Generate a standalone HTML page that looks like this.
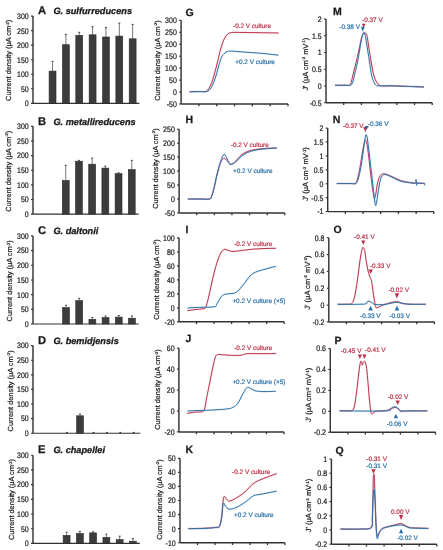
<!DOCTYPE html><html><head><meta charset="utf-8"><style>html,body{margin:0;padding:0;background:#fff;}svg{display:block;filter:blur(0.3px);}</style></head><body>
<svg width="443" height="550" viewBox="0 0 443 550" text-rendering="geometricPrecision" font-family='"Liberation Sans", sans-serif'>
<rect width="443" height="550" fill="#fff"/>
<line x1="33.00" y1="16.10" x2="33.00" y2="103.30" stroke="#333333" stroke-width="1.45"/>
<line x1="31.00" y1="16.10" x2="33.00" y2="16.10" stroke="#333333" stroke-width="1.15"/>
<text transform="translate(28.70,18.97) scale(1,1.14)" font-size="7.0" text-anchor="end" fill="#1a1a1a" stroke="#1a1a1a" stroke-width="0.2">300</text>
<line x1="31.00" y1="30.63" x2="33.00" y2="30.63" stroke="#333333" stroke-width="1.15"/>
<text transform="translate(28.70,33.51) scale(1,1.14)" font-size="7.0" text-anchor="end" fill="#1a1a1a" stroke="#1a1a1a" stroke-width="0.2">250</text>
<line x1="31.00" y1="45.17" x2="33.00" y2="45.17" stroke="#333333" stroke-width="1.15"/>
<text transform="translate(28.70,48.04) scale(1,1.14)" font-size="7.0" text-anchor="end" fill="#1a1a1a" stroke="#1a1a1a" stroke-width="0.2">200</text>
<line x1="31.00" y1="59.70" x2="33.00" y2="59.70" stroke="#333333" stroke-width="1.15"/>
<text transform="translate(28.70,62.57) scale(1,1.14)" font-size="7.0" text-anchor="end" fill="#1a1a1a" stroke="#1a1a1a" stroke-width="0.2">150</text>
<line x1="31.00" y1="74.23" x2="33.00" y2="74.23" stroke="#333333" stroke-width="1.15"/>
<text transform="translate(28.70,77.11) scale(1,1.14)" font-size="7.0" text-anchor="end" fill="#1a1a1a" stroke="#1a1a1a" stroke-width="0.2">100</text>
<line x1="31.00" y1="88.77" x2="33.00" y2="88.77" stroke="#333333" stroke-width="1.15"/>
<text transform="translate(28.70,91.64) scale(1,1.14)" font-size="7.0" text-anchor="end" fill="#1a1a1a" stroke="#1a1a1a" stroke-width="0.2">50</text>
<line x1="31.00" y1="103.30" x2="33.00" y2="103.30" stroke="#333333" stroke-width="1.15"/>
<text transform="translate(28.70,106.17) scale(1,1.14)" font-size="7.0" text-anchor="end" fill="#1a1a1a" stroke="#1a1a1a" stroke-width="0.2">0</text>
<line x1="33.00" y1="103.30" x2="139.40" y2="103.30" stroke="#333333" stroke-width="1.15"/>
<text x="37.90" y="14.30" font-size="11.2" text-anchor="start" fill="#1a1a1a" font-weight="bold" font-style="normal" stroke="#1a1a1a" stroke-width="0.25" >A</text>
<text x="53.40" y="14.30" font-size="9.2" text-anchor="start" fill="#1a1a1a" font-weight="bold" font-style="italic" stroke="#1a1a1a" stroke-width="0.3" >G. sulfurreducens</text>
<text transform="translate(11.30,60.40) rotate(-90)" font-size="7.36" text-anchor="middle" fill="#1a1a1a" stroke="#1a1a1a" stroke-width="0.2">Current density (μA cm<tspan font-size="55%" dy="-2.4">-2</tspan><tspan dy="2.4">)</tspan></text>
<line x1="52.55" y1="61.40" x2="52.55" y2="71.10" stroke="#666" stroke-width="0.9"/>
<line x1="51.55" y1="61.40" x2="53.55" y2="61.40" stroke="#444" stroke-width="1.0"/>
<rect x="49.10" y="71.10" width="6.9" height="32.20" fill="#3c3c3c" stroke="#2a2a2a" stroke-width="0.6"/>
<line x1="65.90" y1="34.40" x2="65.90" y2="44.70" stroke="#666" stroke-width="0.9"/>
<line x1="64.90" y1="34.40" x2="66.90" y2="34.40" stroke="#444" stroke-width="1.0"/>
<rect x="62.45" y="44.70" width="6.9" height="58.60" fill="#3c3c3c" stroke="#2a2a2a" stroke-width="0.6"/>
<line x1="79.25" y1="32.30" x2="79.25" y2="35.40" stroke="#666" stroke-width="0.9"/>
<line x1="78.25" y1="32.30" x2="80.25" y2="32.30" stroke="#444" stroke-width="1.0"/>
<rect x="75.80" y="35.40" width="6.9" height="67.90" fill="#3c3c3c" stroke="#2a2a2a" stroke-width="0.6"/>
<line x1="92.60" y1="26.70" x2="92.60" y2="34.80" stroke="#666" stroke-width="0.9"/>
<line x1="91.60" y1="26.70" x2="93.60" y2="26.70" stroke="#444" stroke-width="1.0"/>
<rect x="89.15" y="34.80" width="6.9" height="68.50" fill="#3c3c3c" stroke="#2a2a2a" stroke-width="0.6"/>
<line x1="105.95" y1="27.40" x2="105.95" y2="37.00" stroke="#666" stroke-width="0.9"/>
<line x1="104.95" y1="27.40" x2="106.95" y2="27.40" stroke="#444" stroke-width="1.0"/>
<rect x="102.50" y="37.00" width="6.9" height="66.30" fill="#3c3c3c" stroke="#2a2a2a" stroke-width="0.6"/>
<line x1="119.30" y1="23.10" x2="119.30" y2="36.10" stroke="#666" stroke-width="0.9"/>
<line x1="118.30" y1="23.10" x2="120.30" y2="23.10" stroke="#444" stroke-width="1.0"/>
<rect x="115.85" y="36.10" width="6.9" height="67.20" fill="#3c3c3c" stroke="#2a2a2a" stroke-width="0.6"/>
<line x1="132.65" y1="24.40" x2="132.65" y2="38.80" stroke="#666" stroke-width="0.9"/>
<line x1="131.65" y1="24.40" x2="133.65" y2="24.40" stroke="#444" stroke-width="1.0"/>
<rect x="129.20" y="38.80" width="6.9" height="64.50" fill="#3c3c3c" stroke="#2a2a2a" stroke-width="0.6"/>
<line x1="33.00" y1="126.30" x2="33.00" y2="214.10" stroke="#333333" stroke-width="1.45"/>
<line x1="31.00" y1="126.30" x2="33.00" y2="126.30" stroke="#333333" stroke-width="1.15"/>
<text transform="translate(28.70,129.17) scale(1,1.14)" font-size="7.0" text-anchor="end" fill="#1a1a1a" stroke="#1a1a1a" stroke-width="0.2">300</text>
<line x1="31.00" y1="140.93" x2="33.00" y2="140.93" stroke="#333333" stroke-width="1.15"/>
<text transform="translate(28.70,143.81) scale(1,1.14)" font-size="7.0" text-anchor="end" fill="#1a1a1a" stroke="#1a1a1a" stroke-width="0.2">250</text>
<line x1="31.00" y1="155.57" x2="33.00" y2="155.57" stroke="#333333" stroke-width="1.15"/>
<text transform="translate(28.70,158.44) scale(1,1.14)" font-size="7.0" text-anchor="end" fill="#1a1a1a" stroke="#1a1a1a" stroke-width="0.2">200</text>
<line x1="31.00" y1="170.20" x2="33.00" y2="170.20" stroke="#333333" stroke-width="1.15"/>
<text transform="translate(28.70,173.07) scale(1,1.14)" font-size="7.0" text-anchor="end" fill="#1a1a1a" stroke="#1a1a1a" stroke-width="0.2">150</text>
<line x1="31.00" y1="184.83" x2="33.00" y2="184.83" stroke="#333333" stroke-width="1.15"/>
<text transform="translate(28.70,187.71) scale(1,1.14)" font-size="7.0" text-anchor="end" fill="#1a1a1a" stroke="#1a1a1a" stroke-width="0.2">100</text>
<line x1="31.00" y1="199.47" x2="33.00" y2="199.47" stroke="#333333" stroke-width="1.15"/>
<text transform="translate(28.70,202.34) scale(1,1.14)" font-size="7.0" text-anchor="end" fill="#1a1a1a" stroke="#1a1a1a" stroke-width="0.2">50</text>
<line x1="31.00" y1="214.10" x2="33.00" y2="214.10" stroke="#333333" stroke-width="1.15"/>
<text transform="translate(28.70,216.97) scale(1,1.14)" font-size="7.0" text-anchor="end" fill="#1a1a1a" stroke="#1a1a1a" stroke-width="0.2">0</text>
<line x1="33.00" y1="214.10" x2="138.60" y2="214.10" stroke="#333333" stroke-width="1.15"/>
<text x="37.90" y="124.50" font-size="11.2" text-anchor="start" fill="#1a1a1a" font-weight="bold" font-style="normal" stroke="#1a1a1a" stroke-width="0.25" >B</text>
<text x="53.40" y="124.50" font-size="9.2" text-anchor="start" fill="#1a1a1a" font-weight="bold" font-style="italic" stroke="#1a1a1a" stroke-width="0.3" >G. metallireducens</text>
<text transform="translate(10.50,171.30) rotate(-90)" font-size="7.36" text-anchor="middle" fill="#1a1a1a" stroke="#1a1a1a" stroke-width="0.2">Current density (μA cm<tspan font-size="55%" dy="-2.4">-2</tspan><tspan dy="2.4">)</tspan></text>
<line x1="65.75" y1="165.40" x2="65.75" y2="180.50" stroke="#666" stroke-width="0.9"/>
<line x1="64.75" y1="165.40" x2="66.75" y2="165.40" stroke="#444" stroke-width="1.0"/>
<rect x="62.30" y="180.50" width="6.9" height="33.60" fill="#3c3c3c" stroke="#2a2a2a" stroke-width="0.6"/>
<line x1="78.95" y1="160.40" x2="78.95" y2="161.20" stroke="#666" stroke-width="0.9"/>
<line x1="77.95" y1="160.40" x2="79.95" y2="160.40" stroke="#444" stroke-width="1.0"/>
<rect x="75.50" y="161.20" width="6.9" height="52.90" fill="#3c3c3c" stroke="#2a2a2a" stroke-width="0.6"/>
<line x1="92.15" y1="158.20" x2="92.15" y2="164.20" stroke="#666" stroke-width="0.9"/>
<line x1="91.15" y1="158.20" x2="93.15" y2="158.20" stroke="#444" stroke-width="1.0"/>
<rect x="88.70" y="164.20" width="6.9" height="49.90" fill="#3c3c3c" stroke="#2a2a2a" stroke-width="0.6"/>
<line x1="105.35" y1="166.10" x2="105.35" y2="168.10" stroke="#666" stroke-width="0.9"/>
<line x1="104.35" y1="166.10" x2="106.35" y2="166.10" stroke="#444" stroke-width="1.0"/>
<rect x="101.90" y="168.10" width="6.9" height="46.00" fill="#3c3c3c" stroke="#2a2a2a" stroke-width="0.6"/>
<line x1="118.55" y1="172.80" x2="118.55" y2="173.60" stroke="#666" stroke-width="0.9"/>
<line x1="117.55" y1="172.80" x2="119.55" y2="172.80" stroke="#444" stroke-width="1.0"/>
<rect x="115.10" y="173.60" width="6.9" height="40.50" fill="#3c3c3c" stroke="#2a2a2a" stroke-width="0.6"/>
<line x1="131.75" y1="160.40" x2="131.75" y2="169.60" stroke="#666" stroke-width="0.9"/>
<line x1="130.75" y1="160.40" x2="132.75" y2="160.40" stroke="#444" stroke-width="1.0"/>
<rect x="128.30" y="169.60" width="6.9" height="44.50" fill="#3c3c3c" stroke="#2a2a2a" stroke-width="0.6"/>
<line x1="33.00" y1="235.90" x2="33.00" y2="324.00" stroke="#333333" stroke-width="1.45"/>
<line x1="31.00" y1="235.90" x2="33.00" y2="235.90" stroke="#333333" stroke-width="1.15"/>
<text transform="translate(28.70,238.77) scale(1,1.14)" font-size="7.0" text-anchor="end" fill="#1a1a1a" stroke="#1a1a1a" stroke-width="0.2">300</text>
<line x1="31.00" y1="250.58" x2="33.00" y2="250.58" stroke="#333333" stroke-width="1.15"/>
<text transform="translate(28.70,253.46) scale(1,1.14)" font-size="7.0" text-anchor="end" fill="#1a1a1a" stroke="#1a1a1a" stroke-width="0.2">250</text>
<line x1="31.00" y1="265.27" x2="33.00" y2="265.27" stroke="#333333" stroke-width="1.15"/>
<text transform="translate(28.70,268.14) scale(1,1.14)" font-size="7.0" text-anchor="end" fill="#1a1a1a" stroke="#1a1a1a" stroke-width="0.2">200</text>
<line x1="31.00" y1="279.95" x2="33.00" y2="279.95" stroke="#333333" stroke-width="1.15"/>
<text transform="translate(28.70,282.82) scale(1,1.14)" font-size="7.0" text-anchor="end" fill="#1a1a1a" stroke="#1a1a1a" stroke-width="0.2">150</text>
<line x1="31.00" y1="294.63" x2="33.00" y2="294.63" stroke="#333333" stroke-width="1.15"/>
<text transform="translate(28.70,297.51) scale(1,1.14)" font-size="7.0" text-anchor="end" fill="#1a1a1a" stroke="#1a1a1a" stroke-width="0.2">100</text>
<line x1="31.00" y1="309.32" x2="33.00" y2="309.32" stroke="#333333" stroke-width="1.15"/>
<text transform="translate(28.70,312.19) scale(1,1.14)" font-size="7.0" text-anchor="end" fill="#1a1a1a" stroke="#1a1a1a" stroke-width="0.2">50</text>
<line x1="31.00" y1="324.00" x2="33.00" y2="324.00" stroke="#333333" stroke-width="1.15"/>
<text transform="translate(28.70,326.87) scale(1,1.14)" font-size="7.0" text-anchor="end" fill="#1a1a1a" stroke="#1a1a1a" stroke-width="0.2">0</text>
<line x1="33.00" y1="324.00" x2="138.70" y2="324.00" stroke="#333333" stroke-width="1.15"/>
<text x="37.90" y="234.10" font-size="11.2" text-anchor="start" fill="#1a1a1a" font-weight="bold" font-style="normal" stroke="#1a1a1a" stroke-width="0.25" >C</text>
<text x="53.40" y="234.10" font-size="9.2" text-anchor="start" fill="#1a1a1a" font-weight="bold" font-style="italic" stroke="#1a1a1a" stroke-width="0.3" >G. daltonii</text>
<text transform="translate(12.20,280.90) rotate(-90)" font-size="7.36" text-anchor="middle" fill="#1a1a1a" stroke="#1a1a1a" stroke-width="0.2">Current density (μA cm<tspan font-size="55%" dy="-2.4">-2</tspan><tspan dy="2.4">)</tspan></text>
<line x1="66.03" y1="305.30" x2="66.03" y2="307.60" stroke="#666" stroke-width="0.9"/>
<line x1="65.03" y1="305.30" x2="67.03" y2="305.30" stroke="#444" stroke-width="1.0"/>
<rect x="62.58" y="307.60" width="6.9" height="16.40" fill="#3c3c3c" stroke="#2a2a2a" stroke-width="0.6"/>
<line x1="79.21" y1="298.40" x2="79.21" y2="300.60" stroke="#666" stroke-width="0.9"/>
<line x1="78.21" y1="298.40" x2="80.21" y2="298.40" stroke="#444" stroke-width="1.0"/>
<rect x="75.76" y="300.60" width="6.9" height="23.40" fill="#3c3c3c" stroke="#2a2a2a" stroke-width="0.6"/>
<line x1="92.39" y1="317.50" x2="92.39" y2="319.30" stroke="#666" stroke-width="0.9"/>
<line x1="91.39" y1="317.50" x2="93.39" y2="317.50" stroke="#444" stroke-width="1.0"/>
<rect x="88.94" y="319.30" width="6.9" height="4.70" fill="#3c3c3c" stroke="#2a2a2a" stroke-width="0.6"/>
<line x1="105.57" y1="316.00" x2="105.57" y2="317.50" stroke="#666" stroke-width="0.9"/>
<line x1="104.57" y1="316.00" x2="106.57" y2="316.00" stroke="#444" stroke-width="1.0"/>
<rect x="102.12" y="317.50" width="6.9" height="6.50" fill="#3c3c3c" stroke="#2a2a2a" stroke-width="0.6"/>
<line x1="118.75" y1="315.50" x2="118.75" y2="317.10" stroke="#666" stroke-width="0.9"/>
<line x1="117.75" y1="315.50" x2="119.75" y2="315.50" stroke="#444" stroke-width="1.0"/>
<rect x="115.30" y="317.10" width="6.9" height="6.90" fill="#3c3c3c" stroke="#2a2a2a" stroke-width="0.6"/>
<line x1="131.93" y1="316.00" x2="131.93" y2="318.20" stroke="#666" stroke-width="0.9"/>
<line x1="130.93" y1="316.00" x2="132.93" y2="316.00" stroke="#444" stroke-width="1.0"/>
<rect x="128.48" y="318.20" width="6.9" height="5.80" fill="#3c3c3c" stroke="#2a2a2a" stroke-width="0.6"/>
<line x1="33.00" y1="345.60" x2="33.00" y2="433.20" stroke="#333333" stroke-width="1.45"/>
<line x1="31.00" y1="345.60" x2="33.00" y2="345.60" stroke="#333333" stroke-width="1.15"/>
<text transform="translate(28.70,348.47) scale(1,1.14)" font-size="7.0" text-anchor="end" fill="#1a1a1a" stroke="#1a1a1a" stroke-width="0.2">300</text>
<line x1="31.00" y1="360.20" x2="33.00" y2="360.20" stroke="#333333" stroke-width="1.15"/>
<text transform="translate(28.70,363.07) scale(1,1.14)" font-size="7.0" text-anchor="end" fill="#1a1a1a" stroke="#1a1a1a" stroke-width="0.2">250</text>
<line x1="31.00" y1="374.80" x2="33.00" y2="374.80" stroke="#333333" stroke-width="1.15"/>
<text transform="translate(28.70,377.67) scale(1,1.14)" font-size="7.0" text-anchor="end" fill="#1a1a1a" stroke="#1a1a1a" stroke-width="0.2">200</text>
<line x1="31.00" y1="389.40" x2="33.00" y2="389.40" stroke="#333333" stroke-width="1.15"/>
<text transform="translate(28.70,392.27) scale(1,1.14)" font-size="7.0" text-anchor="end" fill="#1a1a1a" stroke="#1a1a1a" stroke-width="0.2">150</text>
<line x1="31.00" y1="404.00" x2="33.00" y2="404.00" stroke="#333333" stroke-width="1.15"/>
<text transform="translate(28.70,406.87) scale(1,1.14)" font-size="7.0" text-anchor="end" fill="#1a1a1a" stroke="#1a1a1a" stroke-width="0.2">100</text>
<line x1="31.00" y1="418.60" x2="33.00" y2="418.60" stroke="#333333" stroke-width="1.15"/>
<text transform="translate(28.70,421.47) scale(1,1.14)" font-size="7.0" text-anchor="end" fill="#1a1a1a" stroke="#1a1a1a" stroke-width="0.2">50</text>
<line x1="31.00" y1="433.20" x2="33.00" y2="433.20" stroke="#333333" stroke-width="1.15"/>
<text transform="translate(28.70,436.07) scale(1,1.14)" font-size="7.0" text-anchor="end" fill="#1a1a1a" stroke="#1a1a1a" stroke-width="0.2">0</text>
<line x1="33.00" y1="433.20" x2="140.40" y2="433.20" stroke="#333333" stroke-width="1.15"/>
<text x="37.90" y="343.80" font-size="11.2" text-anchor="start" fill="#1a1a1a" font-weight="bold" font-style="normal" stroke="#1a1a1a" stroke-width="0.25" >D</text>
<text x="53.40" y="343.80" font-size="9.2" text-anchor="start" fill="#1a1a1a" font-weight="bold" font-style="italic" stroke="#1a1a1a" stroke-width="0.3" >G. bemidjensis</text>
<text transform="translate(12.60,390.90) rotate(-90)" font-size="7.36" text-anchor="middle" fill="#1a1a1a" stroke="#1a1a1a" stroke-width="0.2">Current density (μA cm<tspan font-size="55%" dy="-2.4">-2</tspan><tspan dy="2.4">)</tspan></text>
<line x1="80.07" y1="414.00" x2="80.07" y2="415.80" stroke="#666" stroke-width="0.9"/>
<line x1="79.07" y1="414.00" x2="81.07" y2="414.00" stroke="#444" stroke-width="1.0"/>
<rect x="76.62" y="415.80" width="6.9" height="17.40" fill="#3c3c3c" stroke="#2a2a2a" stroke-width="0.6"/>
<rect x="65.96" y="431.90" width="1.8" height="1.3" fill="#333"/>
<rect x="92.68" y="431.90" width="1.8" height="1.3" fill="#333"/>
<rect x="106.04" y="431.90" width="1.8" height="1.3" fill="#333"/>
<rect x="119.40" y="431.90" width="1.8" height="1.3" fill="#333"/>
<rect x="132.76" y="431.90" width="1.8" height="1.3" fill="#333"/>
<line x1="33.00" y1="455.20" x2="33.00" y2="543.40" stroke="#333333" stroke-width="1.45"/>
<line x1="31.00" y1="455.20" x2="33.00" y2="455.20" stroke="#333333" stroke-width="1.15"/>
<text transform="translate(28.70,458.07) scale(1,1.14)" font-size="7.0" text-anchor="end" fill="#1a1a1a" stroke="#1a1a1a" stroke-width="0.2">300</text>
<line x1="31.00" y1="469.90" x2="33.00" y2="469.90" stroke="#333333" stroke-width="1.15"/>
<text transform="translate(28.70,472.77) scale(1,1.14)" font-size="7.0" text-anchor="end" fill="#1a1a1a" stroke="#1a1a1a" stroke-width="0.2">250</text>
<line x1="31.00" y1="484.60" x2="33.00" y2="484.60" stroke="#333333" stroke-width="1.15"/>
<text transform="translate(28.70,487.47) scale(1,1.14)" font-size="7.0" text-anchor="end" fill="#1a1a1a" stroke="#1a1a1a" stroke-width="0.2">200</text>
<line x1="31.00" y1="499.30" x2="33.00" y2="499.30" stroke="#333333" stroke-width="1.15"/>
<text transform="translate(28.70,502.17) scale(1,1.14)" font-size="7.0" text-anchor="end" fill="#1a1a1a" stroke="#1a1a1a" stroke-width="0.2">150</text>
<line x1="31.00" y1="514.00" x2="33.00" y2="514.00" stroke="#333333" stroke-width="1.15"/>
<text transform="translate(28.70,516.87) scale(1,1.14)" font-size="7.0" text-anchor="end" fill="#1a1a1a" stroke="#1a1a1a" stroke-width="0.2">100</text>
<line x1="31.00" y1="528.70" x2="33.00" y2="528.70" stroke="#333333" stroke-width="1.15"/>
<text transform="translate(28.70,531.57) scale(1,1.14)" font-size="7.0" text-anchor="end" fill="#1a1a1a" stroke="#1a1a1a" stroke-width="0.2">50</text>
<line x1="31.00" y1="543.40" x2="33.00" y2="543.40" stroke="#333333" stroke-width="1.15"/>
<text transform="translate(28.70,546.27) scale(1,1.14)" font-size="7.0" text-anchor="end" fill="#1a1a1a" stroke="#1a1a1a" stroke-width="0.2">0</text>
<line x1="33.00" y1="543.40" x2="139.80" y2="543.40" stroke="#333333" stroke-width="1.15"/>
<text x="37.90" y="453.40" font-size="11.2" text-anchor="start" fill="#1a1a1a" font-weight="bold" font-style="normal" stroke="#1a1a1a" stroke-width="0.25" >E</text>
<text x="53.40" y="453.40" font-size="9.2" text-anchor="start" fill="#1a1a1a" font-weight="bold" font-style="italic" stroke="#1a1a1a" stroke-width="0.3" >G. chapellei</text>
<text transform="translate(13.90,499.60) rotate(-90)" font-size="7.36" text-anchor="middle" fill="#1a1a1a" stroke="#1a1a1a" stroke-width="0.2">Current density (μA cm<tspan font-size="55%" dy="-2.4">-2</tspan><tspan dy="2.4">)</tspan></text>
<line x1="66.61" y1="532.30" x2="66.61" y2="535.40" stroke="#666" stroke-width="0.9"/>
<line x1="65.61" y1="532.30" x2="67.61" y2="532.30" stroke="#444" stroke-width="1.0"/>
<rect x="63.16" y="535.40" width="6.9" height="8.00" fill="#3c3c3c" stroke="#2a2a2a" stroke-width="0.6"/>
<line x1="79.87" y1="531.50" x2="79.87" y2="533.40" stroke="#666" stroke-width="0.9"/>
<line x1="78.87" y1="531.50" x2="80.87" y2="531.50" stroke="#444" stroke-width="1.0"/>
<rect x="76.42" y="533.40" width="6.9" height="10.00" fill="#3c3c3c" stroke="#2a2a2a" stroke-width="0.6"/>
<line x1="93.13" y1="531.80" x2="93.13" y2="532.90" stroke="#666" stroke-width="0.9"/>
<line x1="92.13" y1="531.80" x2="94.13" y2="531.80" stroke="#444" stroke-width="1.0"/>
<rect x="89.68" y="532.90" width="6.9" height="10.50" fill="#3c3c3c" stroke="#2a2a2a" stroke-width="0.6"/>
<line x1="106.39" y1="534.20" x2="106.39" y2="537.40" stroke="#666" stroke-width="0.9"/>
<line x1="105.39" y1="534.20" x2="107.39" y2="534.20" stroke="#444" stroke-width="1.0"/>
<rect x="102.94" y="537.40" width="6.9" height="6.00" fill="#3c3c3c" stroke="#2a2a2a" stroke-width="0.6"/>
<line x1="119.65" y1="536.20" x2="119.65" y2="539.60" stroke="#666" stroke-width="0.9"/>
<line x1="118.65" y1="536.20" x2="120.65" y2="536.20" stroke="#444" stroke-width="1.0"/>
<rect x="116.20" y="539.60" width="6.9" height="3.80" fill="#3c3c3c" stroke="#2a2a2a" stroke-width="0.6"/>
<line x1="132.91" y1="538.60" x2="132.91" y2="541.20" stroke="#666" stroke-width="0.9"/>
<line x1="131.91" y1="538.60" x2="133.91" y2="538.60" stroke="#444" stroke-width="1.0"/>
<rect x="129.46" y="541.20" width="6.9" height="2.20" fill="#3c3c3c" stroke="#2a2a2a" stroke-width="0.6"/>
<line x1="181.10" y1="20.30" x2="181.10" y2="104.00" stroke="#333333" stroke-width="1.45"/>
<line x1="179.10" y1="20.30" x2="181.10" y2="20.30" stroke="#333333" stroke-width="1.15"/>
<text transform="translate(176.80,23.17) scale(1,1.14)" font-size="7.0" text-anchor="end" fill="#1a1a1a" stroke="#1a1a1a" stroke-width="0.2">300</text>
<line x1="179.10" y1="32.26" x2="181.10" y2="32.26" stroke="#333333" stroke-width="1.15"/>
<text transform="translate(176.80,35.13) scale(1,1.14)" font-size="7.0" text-anchor="end" fill="#1a1a1a" stroke="#1a1a1a" stroke-width="0.2">250</text>
<line x1="179.10" y1="44.21" x2="181.10" y2="44.21" stroke="#333333" stroke-width="1.15"/>
<text transform="translate(176.80,47.09) scale(1,1.14)" font-size="7.0" text-anchor="end" fill="#1a1a1a" stroke="#1a1a1a" stroke-width="0.2">200</text>
<line x1="179.10" y1="56.17" x2="181.10" y2="56.17" stroke="#333333" stroke-width="1.15"/>
<text transform="translate(176.80,59.04) scale(1,1.14)" font-size="7.0" text-anchor="end" fill="#1a1a1a" stroke="#1a1a1a" stroke-width="0.2">150</text>
<line x1="179.10" y1="68.13" x2="181.10" y2="68.13" stroke="#333333" stroke-width="1.15"/>
<text transform="translate(176.80,71.00) scale(1,1.14)" font-size="7.0" text-anchor="end" fill="#1a1a1a" stroke="#1a1a1a" stroke-width="0.2">100</text>
<line x1="179.10" y1="80.09" x2="181.10" y2="80.09" stroke="#333333" stroke-width="1.15"/>
<text transform="translate(176.80,82.96) scale(1,1.14)" font-size="7.0" text-anchor="end" fill="#1a1a1a" stroke="#1a1a1a" stroke-width="0.2">50</text>
<line x1="179.10" y1="92.04" x2="181.10" y2="92.04" stroke="#333333" stroke-width="1.15"/>
<text transform="translate(176.80,94.92) scale(1,1.14)" font-size="7.0" text-anchor="end" fill="#1a1a1a" stroke="#1a1a1a" stroke-width="0.2">0</text>
<line x1="179.10" y1="104.00" x2="181.10" y2="104.00" stroke="#333333" stroke-width="1.15"/>
<text transform="translate(176.80,106.87) scale(1,1.14)" font-size="7.0" text-anchor="end" fill="#1a1a1a" stroke="#1a1a1a" stroke-width="0.2">-50</text>
<line x1="181.10" y1="104.00" x2="288.00" y2="104.00" stroke="#333333" stroke-width="1.45"/>
<line x1="198.92" y1="104.00" x2="198.92" y2="106.30" stroke="#333333" stroke-width="1.3"/>
<line x1="216.73" y1="104.00" x2="216.73" y2="106.30" stroke="#333333" stroke-width="1.3"/>
<line x1="234.55" y1="104.00" x2="234.55" y2="106.30" stroke="#333333" stroke-width="1.3"/>
<line x1="252.37" y1="104.00" x2="252.37" y2="106.30" stroke="#333333" stroke-width="1.3"/>
<line x1="270.18" y1="104.00" x2="270.18" y2="106.30" stroke="#333333" stroke-width="1.3"/>
<line x1="288.00" y1="104.00" x2="288.00" y2="106.30" stroke="#333333" stroke-width="1.3"/>
<text x="185.40" y="15.50" font-size="10.5" text-anchor="start" fill="#1a1a1a" font-weight="bold" font-style="normal" stroke="#1a1a1a" stroke-width="0.25" >G</text>
<text transform="translate(159.60,60.50) rotate(-90)" font-size="7.3" text-anchor="middle" fill="#1a1a1a" stroke="#1a1a1a" stroke-width="0.2">Current density (μA cm<tspan font-size="55%" dy="-2.4">-2</tspan><tspan dy="2.4">)</tspan></text>
<line x1="179.10" y1="129.20" x2="179.10" y2="212.90" stroke="#333333" stroke-width="1.45"/>
<line x1="177.10" y1="129.20" x2="179.10" y2="129.20" stroke="#333333" stroke-width="1.15"/>
<text transform="translate(174.80,132.07) scale(1,1.14)" font-size="7.0" text-anchor="end" fill="#1a1a1a" stroke="#1a1a1a" stroke-width="0.2">250</text>
<line x1="177.10" y1="143.15" x2="179.10" y2="143.15" stroke="#333333" stroke-width="1.15"/>
<text transform="translate(174.80,146.02) scale(1,1.14)" font-size="7.0" text-anchor="end" fill="#1a1a1a" stroke="#1a1a1a" stroke-width="0.2">200</text>
<line x1="177.10" y1="157.10" x2="179.10" y2="157.10" stroke="#333333" stroke-width="1.15"/>
<text transform="translate(174.80,159.97) scale(1,1.14)" font-size="7.0" text-anchor="end" fill="#1a1a1a" stroke="#1a1a1a" stroke-width="0.2">150</text>
<line x1="177.10" y1="171.05" x2="179.10" y2="171.05" stroke="#333333" stroke-width="1.15"/>
<text transform="translate(174.80,173.92) scale(1,1.14)" font-size="7.0" text-anchor="end" fill="#1a1a1a" stroke="#1a1a1a" stroke-width="0.2">100</text>
<line x1="177.10" y1="185.00" x2="179.10" y2="185.00" stroke="#333333" stroke-width="1.15"/>
<text transform="translate(174.80,187.87) scale(1,1.14)" font-size="7.0" text-anchor="end" fill="#1a1a1a" stroke="#1a1a1a" stroke-width="0.2">50</text>
<line x1="177.10" y1="198.95" x2="179.10" y2="198.95" stroke="#333333" stroke-width="1.15"/>
<text transform="translate(174.80,201.82) scale(1,1.14)" font-size="7.0" text-anchor="end" fill="#1a1a1a" stroke="#1a1a1a" stroke-width="0.2">0</text>
<line x1="177.10" y1="212.90" x2="179.10" y2="212.90" stroke="#333333" stroke-width="1.15"/>
<text transform="translate(174.80,215.77) scale(1,1.14)" font-size="7.0" text-anchor="end" fill="#1a1a1a" stroke="#1a1a1a" stroke-width="0.2">-50</text>
<line x1="179.10" y1="212.90" x2="284.80" y2="212.90" stroke="#333333" stroke-width="1.45"/>
<line x1="196.72" y1="212.90" x2="196.72" y2="215.20" stroke="#333333" stroke-width="1.3"/>
<line x1="214.33" y1="212.90" x2="214.33" y2="215.20" stroke="#333333" stroke-width="1.3"/>
<line x1="231.95" y1="212.90" x2="231.95" y2="215.20" stroke="#333333" stroke-width="1.3"/>
<line x1="249.57" y1="212.90" x2="249.57" y2="215.20" stroke="#333333" stroke-width="1.3"/>
<line x1="267.18" y1="212.90" x2="267.18" y2="215.20" stroke="#333333" stroke-width="1.3"/>
<line x1="284.80" y1="212.90" x2="284.80" y2="215.20" stroke="#333333" stroke-width="1.3"/>
<text x="185.40" y="123.40" font-size="10.5" text-anchor="start" fill="#1a1a1a" font-weight="bold" font-style="normal" stroke="#1a1a1a" stroke-width="0.25" >H</text>
<text transform="translate(157.50,168.60) rotate(-90)" font-size="7.3" text-anchor="middle" fill="#1a1a1a" stroke="#1a1a1a" stroke-width="0.2">Current density (μA cm<tspan font-size="55%" dy="-2.4">-2</tspan><tspan dy="2.4">)</tspan></text>
<line x1="179.00" y1="237.80" x2="179.00" y2="321.80" stroke="#333333" stroke-width="1.45"/>
<line x1="177.00" y1="237.80" x2="179.00" y2="237.80" stroke="#333333" stroke-width="1.15"/>
<text transform="translate(174.70,240.67) scale(1,1.14)" font-size="7.0" text-anchor="end" fill="#1a1a1a" stroke="#1a1a1a" stroke-width="0.2">100</text>
<line x1="177.00" y1="251.80" x2="179.00" y2="251.80" stroke="#333333" stroke-width="1.15"/>
<text transform="translate(174.70,254.67) scale(1,1.14)" font-size="7.0" text-anchor="end" fill="#1a1a1a" stroke="#1a1a1a" stroke-width="0.2">80</text>
<line x1="177.00" y1="265.80" x2="179.00" y2="265.80" stroke="#333333" stroke-width="1.15"/>
<text transform="translate(174.70,268.67) scale(1,1.14)" font-size="7.0" text-anchor="end" fill="#1a1a1a" stroke="#1a1a1a" stroke-width="0.2">60</text>
<line x1="177.00" y1="279.80" x2="179.00" y2="279.80" stroke="#333333" stroke-width="1.15"/>
<text transform="translate(174.70,282.67) scale(1,1.14)" font-size="7.0" text-anchor="end" fill="#1a1a1a" stroke="#1a1a1a" stroke-width="0.2">40</text>
<line x1="177.00" y1="293.80" x2="179.00" y2="293.80" stroke="#333333" stroke-width="1.15"/>
<text transform="translate(174.70,296.67) scale(1,1.14)" font-size="7.0" text-anchor="end" fill="#1a1a1a" stroke="#1a1a1a" stroke-width="0.2">20</text>
<line x1="177.00" y1="307.80" x2="179.00" y2="307.80" stroke="#333333" stroke-width="1.15"/>
<text transform="translate(174.70,310.67) scale(1,1.14)" font-size="7.0" text-anchor="end" fill="#1a1a1a" stroke="#1a1a1a" stroke-width="0.2">0</text>
<line x1="177.00" y1="321.80" x2="179.00" y2="321.80" stroke="#333333" stroke-width="1.15"/>
<text transform="translate(174.70,324.67) scale(1,1.14)" font-size="7.0" text-anchor="end" fill="#1a1a1a" stroke="#1a1a1a" stroke-width="0.2">-20</text>
<line x1="179.00" y1="321.80" x2="284.20" y2="321.80" stroke="#333333" stroke-width="1.45"/>
<line x1="196.53" y1="321.80" x2="196.53" y2="324.10" stroke="#333333" stroke-width="1.3"/>
<line x1="214.07" y1="321.80" x2="214.07" y2="324.10" stroke="#333333" stroke-width="1.3"/>
<line x1="231.60" y1="321.80" x2="231.60" y2="324.10" stroke="#333333" stroke-width="1.3"/>
<line x1="249.13" y1="321.80" x2="249.13" y2="324.10" stroke="#333333" stroke-width="1.3"/>
<line x1="266.67" y1="321.80" x2="266.67" y2="324.10" stroke="#333333" stroke-width="1.3"/>
<line x1="284.20" y1="321.80" x2="284.20" y2="324.10" stroke="#333333" stroke-width="1.3"/>
<text x="185.40" y="232.50" font-size="10.5" text-anchor="start" fill="#1a1a1a" font-weight="bold" font-style="normal" stroke="#1a1a1a" stroke-width="0.25" >I</text>
<text transform="translate(158.70,279.50) rotate(-90)" font-size="7.3" text-anchor="middle" fill="#1a1a1a" stroke="#1a1a1a" stroke-width="0.2">Current density (μA cm<tspan font-size="55%" dy="-2.4">-2</tspan><tspan dy="2.4">)</tspan></text>
<line x1="178.90" y1="348.10" x2="178.90" y2="431.90" stroke="#333333" stroke-width="1.45"/>
<line x1="176.90" y1="348.10" x2="178.90" y2="348.10" stroke="#333333" stroke-width="1.15"/>
<text transform="translate(174.60,350.97) scale(1,1.14)" font-size="7.0" text-anchor="end" fill="#1a1a1a" stroke="#1a1a1a" stroke-width="0.2">60</text>
<line x1="176.90" y1="369.05" x2="178.90" y2="369.05" stroke="#333333" stroke-width="1.15"/>
<text transform="translate(174.60,371.92) scale(1,1.14)" font-size="7.0" text-anchor="end" fill="#1a1a1a" stroke="#1a1a1a" stroke-width="0.2">40</text>
<line x1="176.90" y1="390.00" x2="178.90" y2="390.00" stroke="#333333" stroke-width="1.15"/>
<text transform="translate(174.60,392.87) scale(1,1.14)" font-size="7.0" text-anchor="end" fill="#1a1a1a" stroke="#1a1a1a" stroke-width="0.2">20</text>
<line x1="176.90" y1="410.95" x2="178.90" y2="410.95" stroke="#333333" stroke-width="1.15"/>
<text transform="translate(174.60,413.82) scale(1,1.14)" font-size="7.0" text-anchor="end" fill="#1a1a1a" stroke="#1a1a1a" stroke-width="0.2">0</text>
<line x1="176.90" y1="431.90" x2="178.90" y2="431.90" stroke="#333333" stroke-width="1.15"/>
<text transform="translate(174.60,434.77) scale(1,1.14)" font-size="7.0" text-anchor="end" fill="#1a1a1a" stroke="#1a1a1a" stroke-width="0.2">-20</text>
<line x1="178.90" y1="431.90" x2="284.00" y2="431.90" stroke="#333333" stroke-width="1.45"/>
<line x1="196.42" y1="431.90" x2="196.42" y2="434.20" stroke="#333333" stroke-width="1.3"/>
<line x1="213.93" y1="431.90" x2="213.93" y2="434.20" stroke="#333333" stroke-width="1.3"/>
<line x1="231.45" y1="431.90" x2="231.45" y2="434.20" stroke="#333333" stroke-width="1.3"/>
<line x1="248.97" y1="431.90" x2="248.97" y2="434.20" stroke="#333333" stroke-width="1.3"/>
<line x1="266.48" y1="431.90" x2="266.48" y2="434.20" stroke="#333333" stroke-width="1.3"/>
<line x1="284.00" y1="431.90" x2="284.00" y2="434.20" stroke="#333333" stroke-width="1.3"/>
<text x="185.40" y="342.40" font-size="10.5" text-anchor="start" fill="#1a1a1a" font-weight="bold" font-style="normal" stroke="#1a1a1a" stroke-width="0.25" >J</text>
<text transform="translate(160.40,389.50) rotate(-90)" font-size="7.3" text-anchor="middle" fill="#1a1a1a" stroke="#1a1a1a" stroke-width="0.2">Current density (μA cm<tspan font-size="55%" dy="-2.4">-2</tspan><tspan dy="2.4">)</tspan></text>
<line x1="180.00" y1="458.30" x2="180.00" y2="542.70" stroke="#333333" stroke-width="1.45"/>
<line x1="178.00" y1="458.30" x2="180.00" y2="458.30" stroke="#333333" stroke-width="1.15"/>
<text transform="translate(175.70,461.17) scale(1,1.14)" font-size="7.0" text-anchor="end" fill="#1a1a1a" stroke="#1a1a1a" stroke-width="0.2">50</text>
<line x1="178.00" y1="472.37" x2="180.00" y2="472.37" stroke="#333333" stroke-width="1.15"/>
<text transform="translate(175.70,475.24) scale(1,1.14)" font-size="7.0" text-anchor="end" fill="#1a1a1a" stroke="#1a1a1a" stroke-width="0.2">40</text>
<line x1="178.00" y1="486.43" x2="180.00" y2="486.43" stroke="#333333" stroke-width="1.15"/>
<text transform="translate(175.70,489.31) scale(1,1.14)" font-size="7.0" text-anchor="end" fill="#1a1a1a" stroke="#1a1a1a" stroke-width="0.2">30</text>
<line x1="178.00" y1="500.50" x2="180.00" y2="500.50" stroke="#333333" stroke-width="1.15"/>
<text transform="translate(175.70,503.37) scale(1,1.14)" font-size="7.0" text-anchor="end" fill="#1a1a1a" stroke="#1a1a1a" stroke-width="0.2">20</text>
<line x1="178.00" y1="514.57" x2="180.00" y2="514.57" stroke="#333333" stroke-width="1.15"/>
<text transform="translate(175.70,517.44) scale(1,1.14)" font-size="7.0" text-anchor="end" fill="#1a1a1a" stroke="#1a1a1a" stroke-width="0.2">10</text>
<line x1="178.00" y1="528.63" x2="180.00" y2="528.63" stroke="#333333" stroke-width="1.15"/>
<text transform="translate(175.70,531.51) scale(1,1.14)" font-size="7.0" text-anchor="end" fill="#1a1a1a" stroke="#1a1a1a" stroke-width="0.2">0</text>
<line x1="178.00" y1="542.70" x2="180.00" y2="542.70" stroke="#333333" stroke-width="1.15"/>
<text transform="translate(175.70,545.57) scale(1,1.14)" font-size="7.0" text-anchor="end" fill="#1a1a1a" stroke="#1a1a1a" stroke-width="0.2">-10</text>
<line x1="180.00" y1="542.70" x2="285.00" y2="542.70" stroke="#333333" stroke-width="1.45"/>
<line x1="197.50" y1="542.70" x2="197.50" y2="545.00" stroke="#333333" stroke-width="1.3"/>
<line x1="215.00" y1="542.70" x2="215.00" y2="545.00" stroke="#333333" stroke-width="1.3"/>
<line x1="232.50" y1="542.70" x2="232.50" y2="545.00" stroke="#333333" stroke-width="1.3"/>
<line x1="250.00" y1="542.70" x2="250.00" y2="545.00" stroke="#333333" stroke-width="1.3"/>
<line x1="267.50" y1="542.70" x2="267.50" y2="545.00" stroke="#333333" stroke-width="1.3"/>
<line x1="285.00" y1="542.70" x2="285.00" y2="545.00" stroke="#333333" stroke-width="1.3"/>
<text x="185.40" y="453.00" font-size="10.5" text-anchor="start" fill="#1a1a1a" font-weight="bold" font-style="normal" stroke="#1a1a1a" stroke-width="0.25" >K</text>
<text transform="translate(161.50,499.50) rotate(-90)" font-size="7.3" text-anchor="middle" fill="#1a1a1a" stroke="#1a1a1a" stroke-width="0.2">Current density (μA cm<tspan font-size="55%" dy="-2.4">-2</tspan><tspan dy="2.4">)</tspan></text>
<line x1="326.00" y1="19.00" x2="326.00" y2="102.70" stroke="#333333" stroke-width="1.45"/>
<line x1="324.00" y1="19.00" x2="326.00" y2="19.00" stroke="#333333" stroke-width="1.15"/>
<text transform="translate(321.70,21.87) scale(1,1.14)" font-size="7.0" text-anchor="end" fill="#1a1a1a" stroke="#1a1a1a" stroke-width="0.2">2</text>
<line x1="324.00" y1="35.74" x2="326.00" y2="35.74" stroke="#333333" stroke-width="1.15"/>
<text transform="translate(321.70,38.61) scale(1,1.14)" font-size="7.0" text-anchor="end" fill="#1a1a1a" stroke="#1a1a1a" stroke-width="0.2">1.5</text>
<line x1="324.00" y1="52.48" x2="326.00" y2="52.48" stroke="#333333" stroke-width="1.15"/>
<text transform="translate(321.70,55.35) scale(1,1.14)" font-size="7.0" text-anchor="end" fill="#1a1a1a" stroke="#1a1a1a" stroke-width="0.2">1</text>
<line x1="324.00" y1="69.22" x2="326.00" y2="69.22" stroke="#333333" stroke-width="1.15"/>
<text transform="translate(321.70,72.09) scale(1,1.14)" font-size="7.0" text-anchor="end" fill="#1a1a1a" stroke="#1a1a1a" stroke-width="0.2">0.5</text>
<line x1="324.00" y1="85.96" x2="326.00" y2="85.96" stroke="#333333" stroke-width="1.15"/>
<text transform="translate(321.70,88.83) scale(1,1.14)" font-size="7.0" text-anchor="end" fill="#1a1a1a" stroke="#1a1a1a" stroke-width="0.2">0</text>
<line x1="324.00" y1="102.70" x2="326.00" y2="102.70" stroke="#333333" stroke-width="1.15"/>
<text transform="translate(321.70,105.57) scale(1,1.14)" font-size="7.0" text-anchor="end" fill="#1a1a1a" stroke="#1a1a1a" stroke-width="0.2">-0.5</text>
<line x1="326.00" y1="102.70" x2="432.20" y2="102.70" stroke="#333333" stroke-width="1.45"/>
<line x1="343.70" y1="102.70" x2="343.70" y2="105.00" stroke="#333333" stroke-width="1.3"/>
<line x1="361.40" y1="102.70" x2="361.40" y2="105.00" stroke="#333333" stroke-width="1.3"/>
<line x1="379.10" y1="102.70" x2="379.10" y2="105.00" stroke="#333333" stroke-width="1.3"/>
<line x1="396.80" y1="102.70" x2="396.80" y2="105.00" stroke="#333333" stroke-width="1.3"/>
<line x1="414.50" y1="102.70" x2="414.50" y2="105.00" stroke="#333333" stroke-width="1.3"/>
<line x1="432.20" y1="102.70" x2="432.20" y2="105.00" stroke="#333333" stroke-width="1.3"/>
<text x="333.00" y="15.20" font-size="10.5" text-anchor="start" fill="#1a1a1a" font-weight="bold" font-style="normal" stroke="#1a1a1a" stroke-width="0.25" >M</text>
<text transform="translate(307.70,64.15) rotate(-90)" font-size="7.36" text-anchor="middle" fill="#1a1a1a" stroke="#1a1a1a" stroke-width="0.2">J' (μA cm<tspan font-size="55%" dy="-2.4">-2</tspan><tspan dy="2.4"> mV</tspan><tspan font-size="55%" dy="-2.4">-1</tspan><tspan dy="2.4">)</tspan></text>
<line x1="327.70" y1="128.10" x2="327.70" y2="211.60" stroke="#333333" stroke-width="1.45"/>
<line x1="325.70" y1="128.10" x2="327.70" y2="128.10" stroke="#333333" stroke-width="1.15"/>
<text transform="translate(323.40,130.97) scale(1,1.14)" font-size="7.0" text-anchor="end" fill="#1a1a1a" stroke="#1a1a1a" stroke-width="0.2">2</text>
<line x1="325.70" y1="142.02" x2="327.70" y2="142.02" stroke="#333333" stroke-width="1.15"/>
<text transform="translate(323.40,144.89) scale(1,1.14)" font-size="7.0" text-anchor="end" fill="#1a1a1a" stroke="#1a1a1a" stroke-width="0.2">1.5</text>
<line x1="325.70" y1="155.93" x2="327.70" y2="155.93" stroke="#333333" stroke-width="1.15"/>
<text transform="translate(323.40,158.81) scale(1,1.14)" font-size="7.0" text-anchor="end" fill="#1a1a1a" stroke="#1a1a1a" stroke-width="0.2">1</text>
<line x1="325.70" y1="169.85" x2="327.70" y2="169.85" stroke="#333333" stroke-width="1.15"/>
<text transform="translate(323.40,172.72) scale(1,1.14)" font-size="7.0" text-anchor="end" fill="#1a1a1a" stroke="#1a1a1a" stroke-width="0.2">0.5</text>
<line x1="325.70" y1="183.77" x2="327.70" y2="183.77" stroke="#333333" stroke-width="1.15"/>
<text transform="translate(323.40,186.64) scale(1,1.14)" font-size="7.0" text-anchor="end" fill="#1a1a1a" stroke="#1a1a1a" stroke-width="0.2">0</text>
<line x1="325.70" y1="197.68" x2="327.70" y2="197.68" stroke="#333333" stroke-width="1.15"/>
<text transform="translate(323.40,200.56) scale(1,1.14)" font-size="7.0" text-anchor="end" fill="#1a1a1a" stroke="#1a1a1a" stroke-width="0.2">-0.5</text>
<line x1="325.70" y1="211.60" x2="327.70" y2="211.60" stroke="#333333" stroke-width="1.15"/>
<text transform="translate(323.40,214.47) scale(1,1.14)" font-size="7.0" text-anchor="end" fill="#1a1a1a" stroke="#1a1a1a" stroke-width="0.2">-1</text>
<line x1="327.70" y1="211.60" x2="433.80" y2="211.60" stroke="#333333" stroke-width="1.45"/>
<line x1="345.38" y1="211.60" x2="345.38" y2="213.90" stroke="#333333" stroke-width="1.3"/>
<line x1="363.07" y1="211.60" x2="363.07" y2="213.90" stroke="#333333" stroke-width="1.3"/>
<line x1="380.75" y1="211.60" x2="380.75" y2="213.90" stroke="#333333" stroke-width="1.3"/>
<line x1="398.43" y1="211.60" x2="398.43" y2="213.90" stroke="#333333" stroke-width="1.3"/>
<line x1="416.12" y1="211.60" x2="416.12" y2="213.90" stroke="#333333" stroke-width="1.3"/>
<line x1="433.80" y1="211.60" x2="433.80" y2="213.90" stroke="#333333" stroke-width="1.3"/>
<text x="332.80" y="123.40" font-size="10.5" text-anchor="start" fill="#1a1a1a" font-weight="bold" font-style="normal" stroke="#1a1a1a" stroke-width="0.25" >N</text>
<text transform="translate(308.00,174.10) rotate(-90)" font-size="7.48" text-anchor="middle" fill="#1a1a1a" stroke="#1a1a1a" stroke-width="0.2">J' (μA cm<tspan font-size="55%" dy="-2.4">-2</tspan><tspan dy="2.4"> mV</tspan><tspan font-size="55%" dy="-2.4">-1</tspan><tspan dy="2.4">)</tspan></text>
<line x1="328.80" y1="237.80" x2="328.80" y2="321.90" stroke="#333333" stroke-width="1.45"/>
<line x1="326.80" y1="237.80" x2="328.80" y2="237.80" stroke="#333333" stroke-width="1.15"/>
<text transform="translate(324.50,240.67) scale(1,1.14)" font-size="7.0" text-anchor="end" fill="#1a1a1a" stroke="#1a1a1a" stroke-width="0.2">0.8</text>
<line x1="326.80" y1="254.62" x2="328.80" y2="254.62" stroke="#333333" stroke-width="1.15"/>
<text transform="translate(324.50,257.49) scale(1,1.14)" font-size="7.0" text-anchor="end" fill="#1a1a1a" stroke="#1a1a1a" stroke-width="0.2">0.6</text>
<line x1="326.80" y1="271.44" x2="328.80" y2="271.44" stroke="#333333" stroke-width="1.15"/>
<text transform="translate(324.50,274.31) scale(1,1.14)" font-size="7.0" text-anchor="end" fill="#1a1a1a" stroke="#1a1a1a" stroke-width="0.2">0.4</text>
<line x1="326.80" y1="288.26" x2="328.80" y2="288.26" stroke="#333333" stroke-width="1.15"/>
<text transform="translate(324.50,291.13) scale(1,1.14)" font-size="7.0" text-anchor="end" fill="#1a1a1a" stroke="#1a1a1a" stroke-width="0.2">0.2</text>
<line x1="326.80" y1="305.08" x2="328.80" y2="305.08" stroke="#333333" stroke-width="1.15"/>
<text transform="translate(324.50,307.95) scale(1,1.14)" font-size="7.0" text-anchor="end" fill="#1a1a1a" stroke="#1a1a1a" stroke-width="0.2">0</text>
<line x1="326.80" y1="321.90" x2="328.80" y2="321.90" stroke="#333333" stroke-width="1.15"/>
<text transform="translate(324.50,324.77) scale(1,1.14)" font-size="7.0" text-anchor="end" fill="#1a1a1a" stroke="#1a1a1a" stroke-width="0.2">-0.2</text>
<line x1="328.80" y1="321.90" x2="434.40" y2="321.90" stroke="#333333" stroke-width="1.45"/>
<line x1="346.40" y1="321.90" x2="346.40" y2="324.20" stroke="#333333" stroke-width="1.3"/>
<line x1="364.00" y1="321.90" x2="364.00" y2="324.20" stroke="#333333" stroke-width="1.3"/>
<line x1="381.60" y1="321.90" x2="381.60" y2="324.20" stroke="#333333" stroke-width="1.3"/>
<line x1="399.20" y1="321.90" x2="399.20" y2="324.20" stroke="#333333" stroke-width="1.3"/>
<line x1="416.80" y1="321.90" x2="416.80" y2="324.20" stroke="#333333" stroke-width="1.3"/>
<line x1="434.40" y1="321.90" x2="434.40" y2="324.20" stroke="#333333" stroke-width="1.3"/>
<text x="333.40" y="232.80" font-size="10.5" text-anchor="start" fill="#1a1a1a" font-weight="bold" font-style="normal" stroke="#1a1a1a" stroke-width="0.25" >O</text>
<text transform="translate(309.50,282.65) rotate(-90)" font-size="7.55" text-anchor="middle" fill="#1a1a1a" stroke="#1a1a1a" stroke-width="0.2">J' (μA cm<tspan font-size="55%" dy="-2.4">-2</tspan><tspan dy="2.4"> mV</tspan><tspan font-size="55%" dy="-2.4">-1</tspan><tspan dy="2.4">)</tspan></text>
<line x1="330.30" y1="348.50" x2="330.30" y2="432.30" stroke="#333333" stroke-width="1.45"/>
<line x1="328.30" y1="348.50" x2="330.30" y2="348.50" stroke="#333333" stroke-width="1.15"/>
<text transform="translate(326.00,351.37) scale(1,1.14)" font-size="7.0" text-anchor="end" fill="#1a1a1a" stroke="#1a1a1a" stroke-width="0.2">0.6</text>
<line x1="328.30" y1="369.45" x2="330.30" y2="369.45" stroke="#333333" stroke-width="1.15"/>
<text transform="translate(326.00,372.32) scale(1,1.14)" font-size="7.0" text-anchor="end" fill="#1a1a1a" stroke="#1a1a1a" stroke-width="0.2">0.4</text>
<line x1="328.30" y1="390.40" x2="330.30" y2="390.40" stroke="#333333" stroke-width="1.15"/>
<text transform="translate(326.00,393.27) scale(1,1.14)" font-size="7.0" text-anchor="end" fill="#1a1a1a" stroke="#1a1a1a" stroke-width="0.2">0.2</text>
<line x1="328.30" y1="411.35" x2="330.30" y2="411.35" stroke="#333333" stroke-width="1.15"/>
<text transform="translate(326.00,414.22) scale(1,1.14)" font-size="7.0" text-anchor="end" fill="#1a1a1a" stroke="#1a1a1a" stroke-width="0.2">0</text>
<line x1="328.30" y1="432.30" x2="330.30" y2="432.30" stroke="#333333" stroke-width="1.15"/>
<text transform="translate(326.00,435.17) scale(1,1.14)" font-size="7.0" text-anchor="end" fill="#1a1a1a" stroke="#1a1a1a" stroke-width="0.2">-0.2</text>
<line x1="330.30" y1="432.30" x2="435.50" y2="432.30" stroke="#333333" stroke-width="1.45"/>
<line x1="347.83" y1="432.30" x2="347.83" y2="434.60" stroke="#333333" stroke-width="1.3"/>
<line x1="365.37" y1="432.30" x2="365.37" y2="434.60" stroke="#333333" stroke-width="1.3"/>
<line x1="382.90" y1="432.30" x2="382.90" y2="434.60" stroke="#333333" stroke-width="1.3"/>
<line x1="400.43" y1="432.30" x2="400.43" y2="434.60" stroke="#333333" stroke-width="1.3"/>
<line x1="417.97" y1="432.30" x2="417.97" y2="434.60" stroke="#333333" stroke-width="1.3"/>
<line x1="435.50" y1="432.30" x2="435.50" y2="434.60" stroke="#333333" stroke-width="1.3"/>
<text x="334.60" y="343.60" font-size="10.5" text-anchor="start" fill="#1a1a1a" font-weight="bold" font-style="normal" stroke="#1a1a1a" stroke-width="0.25" >P</text>
<text transform="translate(311.40,394.90) rotate(-90)" font-size="7.56" text-anchor="middle" fill="#1a1a1a" stroke="#1a1a1a" stroke-width="0.2">J' (μA cm<tspan font-size="55%" dy="-2.4">-2</tspan><tspan dy="2.4"> mV</tspan><tspan font-size="55%" dy="-2.4">-1</tspan><tspan dy="2.4">)</tspan></text>
<line x1="331.40" y1="459.00" x2="331.40" y2="544.20" stroke="#333333" stroke-width="1.45"/>
<line x1="329.40" y1="459.00" x2="331.40" y2="459.00" stroke="#333333" stroke-width="1.15"/>
<text transform="translate(327.10,461.87) scale(1,1.14)" font-size="7.0" text-anchor="end" fill="#1a1a1a" stroke="#1a1a1a" stroke-width="0.2">1</text>
<line x1="329.40" y1="473.20" x2="331.40" y2="473.20" stroke="#333333" stroke-width="1.15"/>
<text transform="translate(327.10,476.07) scale(1,1.14)" font-size="7.0" text-anchor="end" fill="#1a1a1a" stroke="#1a1a1a" stroke-width="0.2">0.8</text>
<line x1="329.40" y1="487.40" x2="331.40" y2="487.40" stroke="#333333" stroke-width="1.15"/>
<text transform="translate(327.10,490.27) scale(1,1.14)" font-size="7.0" text-anchor="end" fill="#1a1a1a" stroke="#1a1a1a" stroke-width="0.2">0.6</text>
<line x1="329.40" y1="501.60" x2="331.40" y2="501.60" stroke="#333333" stroke-width="1.15"/>
<text transform="translate(327.10,504.47) scale(1,1.14)" font-size="7.0" text-anchor="end" fill="#1a1a1a" stroke="#1a1a1a" stroke-width="0.2">0.4</text>
<line x1="329.40" y1="515.80" x2="331.40" y2="515.80" stroke="#333333" stroke-width="1.15"/>
<text transform="translate(327.10,518.67) scale(1,1.14)" font-size="7.0" text-anchor="end" fill="#1a1a1a" stroke="#1a1a1a" stroke-width="0.2">0.2</text>
<line x1="329.40" y1="530.00" x2="331.40" y2="530.00" stroke="#333333" stroke-width="1.15"/>
<text transform="translate(327.10,532.87) scale(1,1.14)" font-size="7.0" text-anchor="end" fill="#1a1a1a" stroke="#1a1a1a" stroke-width="0.2">0</text>
<line x1="329.40" y1="544.20" x2="331.40" y2="544.20" stroke="#333333" stroke-width="1.15"/>
<text transform="translate(327.10,547.07) scale(1,1.14)" font-size="7.0" text-anchor="end" fill="#1a1a1a" stroke="#1a1a1a" stroke-width="0.2">-0.2</text>
<line x1="331.40" y1="544.20" x2="436.80" y2="544.20" stroke="#333333" stroke-width="1.45"/>
<line x1="348.97" y1="544.20" x2="348.97" y2="546.50" stroke="#333333" stroke-width="1.3"/>
<line x1="366.53" y1="544.20" x2="366.53" y2="546.50" stroke="#333333" stroke-width="1.3"/>
<line x1="384.10" y1="544.20" x2="384.10" y2="546.50" stroke="#333333" stroke-width="1.3"/>
<line x1="401.67" y1="544.20" x2="401.67" y2="546.50" stroke="#333333" stroke-width="1.3"/>
<line x1="419.23" y1="544.20" x2="419.23" y2="546.50" stroke="#333333" stroke-width="1.3"/>
<line x1="436.80" y1="544.20" x2="436.80" y2="546.50" stroke="#333333" stroke-width="1.3"/>
<text x="335.60" y="453.90" font-size="10.5" text-anchor="start" fill="#1a1a1a" font-weight="bold" font-style="normal" stroke="#1a1a1a" stroke-width="0.25" >Q</text>
<text transform="translate(311.40,505.50) rotate(-90)" font-size="7.43" text-anchor="middle" fill="#1a1a1a" stroke="#1a1a1a" stroke-width="0.2">J' (μA cm<tspan font-size="55%" dy="-2.4">-2</tspan><tspan dy="2.4"> mV</tspan><tspan font-size="55%" dy="-2.4">-1</tspan><tspan dy="2.4">)</tspan></text>
<path d="M190.10,91.60 C191.75,91.58 197.28,91.57 200.00,91.50 C202.72,91.43 204.60,92.30 206.40,91.20 C208.20,90.10 209.43,87.87 210.80,84.90 C212.17,81.93 213.43,77.43 214.60,73.40 C215.77,69.37 216.73,64.95 217.80,60.70 C218.87,56.45 219.93,51.52 221.00,47.90 C222.07,44.28 223.03,41.33 224.20,39.00 C225.37,36.67 226.73,34.98 228.00,33.90 C229.27,32.82 229.80,32.75 231.80,32.50 C233.80,32.25 235.30,32.37 240.00,32.40 C244.70,32.43 253.65,32.60 260.00,32.70 C266.35,32.80 275.08,32.95 278.10,33.00" fill="none" stroke="#e8a0b0" stroke-opacity="0.25" stroke-width="2.0" stroke-linejoin="round" stroke-linecap="round"/>
<path d="M190.10,91.60 C191.75,91.58 197.28,91.57 200.00,91.50 C202.72,91.43 204.60,92.30 206.40,91.20 C208.20,90.10 209.43,87.87 210.80,84.90 C212.17,81.93 213.43,77.43 214.60,73.40 C215.77,69.37 216.73,64.95 217.80,60.70 C218.87,56.45 219.93,51.52 221.00,47.90 C222.07,44.28 223.03,41.33 224.20,39.00 C225.37,36.67 226.73,34.98 228.00,33.90 C229.27,32.82 229.80,32.75 231.80,32.50 C233.80,32.25 235.30,32.37 240.00,32.40 C244.70,32.43 253.65,32.60 260.00,32.70 C266.35,32.80 275.08,32.95 278.10,33.00" fill="none" stroke="#b8304a" stroke-width="1.0" stroke-linejoin="round" stroke-linecap="round"/>
<path d="M190.10,91.80 C191.75,91.77 197.08,91.68 200.00,91.60 C202.92,91.52 205.58,92.22 207.60,91.30 C209.62,90.38 210.72,88.65 212.10,86.10 C213.48,83.55 214.73,79.60 215.90,76.00 C217.07,72.40 218.13,67.70 219.10,64.50 C220.07,61.30 220.75,58.72 221.70,56.80 C222.65,54.88 223.85,53.88 224.80,53.00 C225.75,52.12 226.23,51.82 227.40,51.50 C228.57,51.18 229.70,51.05 231.80,51.10 C233.90,51.15 235.30,51.45 240.00,51.80 C244.70,52.15 253.65,52.65 260.00,53.20 C266.35,53.75 275.08,54.78 278.10,55.10" fill="none" stroke="#a0c4e4" stroke-opacity="0.25" stroke-width="2.0" stroke-linejoin="round" stroke-linecap="round"/>
<path d="M190.10,91.80 C191.75,91.77 197.08,91.68 200.00,91.60 C202.92,91.52 205.58,92.22 207.60,91.30 C209.62,90.38 210.72,88.65 212.10,86.10 C213.48,83.55 214.73,79.60 215.90,76.00 C217.07,72.40 218.13,67.70 219.10,64.50 C220.07,61.30 220.75,58.72 221.70,56.80 C222.65,54.88 223.85,53.88 224.80,53.00 C225.75,52.12 226.23,51.82 227.40,51.50 C228.57,51.18 229.70,51.05 231.80,51.10 C233.90,51.15 235.30,51.45 240.00,51.80 C244.70,52.15 253.65,52.65 260.00,53.20 C266.35,53.75 275.08,54.78 278.10,55.10" fill="none" stroke="#2a70a8" stroke-width="1.0" stroke-linejoin="round" stroke-linecap="round"/>
<text x="233.00" y="28.00" font-size="6.4" text-anchor="start" fill="#c03048" font-weight="normal" font-style="normal" stroke="#c03048" stroke-width="0.2" >-0.2 V culture</text>
<text x="235.30" y="63.50" font-size="6.4" text-anchor="start" fill="#2a72aa" font-weight="normal" font-style="normal" stroke="#2a72aa" stroke-width="0.2" >+0.2 V culture</text>
<path d="M188.30,198.90 C190.25,198.90 196.47,198.90 200.00,198.90 C203.53,198.90 207.53,199.45 209.50,198.90 C211.47,198.35 211.02,197.53 211.80,195.60 C212.58,193.67 213.42,190.47 214.20,187.30 C214.98,184.13 215.72,179.88 216.50,176.60 C217.28,173.32 218.10,170.20 218.90,167.60 C219.70,165.00 220.42,162.55 221.30,161.00 C222.18,159.45 223.25,158.38 224.20,158.30 C225.15,158.22 226.02,159.55 227.00,160.50 C227.98,161.45 229.10,163.48 230.10,164.00 C231.10,164.52 232.02,164.13 233.00,163.60 C233.98,163.07 234.60,162.23 236.00,160.80 C237.40,159.37 239.52,156.55 241.40,155.00 C243.28,153.45 245.03,152.42 247.30,151.50 C249.57,150.58 252.05,150.00 255.00,149.50 C257.95,149.00 261.45,148.75 265.00,148.50 C268.55,148.25 274.42,148.08 276.30,148.00" fill="none" stroke="#e8a0b0" stroke-opacity="0.25" stroke-width="2.0" stroke-linejoin="round" stroke-linecap="round"/>
<path d="M188.30,198.90 C190.25,198.90 196.47,198.90 200.00,198.90 C203.53,198.90 207.53,199.45 209.50,198.90 C211.47,198.35 211.02,197.53 211.80,195.60 C212.58,193.67 213.42,190.47 214.20,187.30 C214.98,184.13 215.72,179.88 216.50,176.60 C217.28,173.32 218.10,170.20 218.90,167.60 C219.70,165.00 220.42,162.55 221.30,161.00 C222.18,159.45 223.25,158.38 224.20,158.30 C225.15,158.22 226.02,159.55 227.00,160.50 C227.98,161.45 229.10,163.48 230.10,164.00 C231.10,164.52 232.02,164.13 233.00,163.60 C233.98,163.07 234.60,162.23 236.00,160.80 C237.40,159.37 239.52,156.55 241.40,155.00 C243.28,153.45 245.03,152.42 247.30,151.50 C249.57,150.58 252.05,150.00 255.00,149.50 C257.95,149.00 261.45,148.75 265.00,148.50 C268.55,148.25 274.42,148.08 276.30,148.00" fill="none" stroke="#b8304a" stroke-width="1.0" stroke-linejoin="round" stroke-linecap="round"/>
<path d="M188.30,199.10 C190.25,199.10 196.47,199.10 200.00,199.10 C203.53,199.10 207.53,199.65 209.50,199.10 C211.47,198.55 211.02,197.73 211.80,195.80 C212.58,193.87 213.42,190.67 214.20,187.50 C214.98,184.33 215.72,180.18 216.50,176.80 C217.28,173.42 218.10,170.08 218.90,167.20 C219.70,164.32 220.42,161.67 221.30,159.50 C222.18,157.33 223.32,154.50 224.20,154.20 C225.08,153.90 225.80,156.23 226.60,157.70 C227.40,159.17 228.28,161.85 229.00,163.00 C229.72,164.15 229.82,164.77 230.90,164.60 C231.98,164.43 233.75,163.37 235.50,162.00 C237.25,160.63 239.43,157.97 241.40,156.40 C243.37,154.83 245.03,153.63 247.30,152.60 C249.57,151.57 252.05,150.83 255.00,150.20 C257.95,149.57 261.45,149.17 265.00,148.80 C268.55,148.43 274.42,148.13 276.30,148.00" fill="none" stroke="#a0c4e4" stroke-opacity="0.25" stroke-width="2.0" stroke-linejoin="round" stroke-linecap="round"/>
<path d="M188.30,199.10 C190.25,199.10 196.47,199.10 200.00,199.10 C203.53,199.10 207.53,199.65 209.50,199.10 C211.47,198.55 211.02,197.73 211.80,195.80 C212.58,193.87 213.42,190.67 214.20,187.50 C214.98,184.33 215.72,180.18 216.50,176.80 C217.28,173.42 218.10,170.08 218.90,167.20 C219.70,164.32 220.42,161.67 221.30,159.50 C222.18,157.33 223.32,154.50 224.20,154.20 C225.08,153.90 225.80,156.23 226.60,157.70 C227.40,159.17 228.28,161.85 229.00,163.00 C229.72,164.15 229.82,164.77 230.90,164.60 C231.98,164.43 233.75,163.37 235.50,162.00 C237.25,160.63 239.43,157.97 241.40,156.40 C243.37,154.83 245.03,153.63 247.30,152.60 C249.57,151.57 252.05,150.83 255.00,150.20 C257.95,149.57 261.45,149.17 265.00,148.80 C268.55,148.43 274.42,148.13 276.30,148.00" fill="none" stroke="#2a70a8" stroke-width="1.0" stroke-linejoin="round" stroke-linecap="round"/>
<text x="230.80" y="146.60" font-size="6.4" text-anchor="start" fill="#c03048" font-weight="normal" font-style="normal" stroke="#c03048" stroke-width="0.2" >-0.2 V culture</text>
<text x="233.00" y="172.60" font-size="6.4" text-anchor="start" fill="#2a72aa" font-weight="normal" font-style="normal" stroke="#2a72aa" stroke-width="0.2" >+0.2 V culture</text>
<path d="M187.90,310.60 C189.08,310.43 192.45,309.90 195.00,309.60 C197.55,309.30 201.38,309.27 203.20,308.80 C205.02,308.33 205.00,308.73 205.90,306.80 C206.80,304.87 207.70,300.83 208.60,297.20 C209.50,293.57 210.38,289.08 211.30,285.00 C212.22,280.92 213.18,276.33 214.10,272.70 C215.02,269.07 215.90,266.03 216.80,263.20 C217.70,260.37 218.60,257.75 219.50,255.70 C220.40,253.65 221.28,251.97 222.20,250.90 C223.12,249.83 223.85,249.33 225.00,249.30 C226.15,249.27 227.75,250.33 229.10,250.70 C230.45,251.07 231.52,251.47 233.10,251.50 C234.68,251.53 236.62,251.13 238.60,250.90 C240.58,250.67 242.27,250.42 245.00,250.10 C247.73,249.78 251.67,249.27 255.00,249.00 C258.33,248.73 261.58,248.62 265.00,248.50 C268.42,248.38 273.75,248.33 275.50,248.30" fill="none" stroke="#e8a0b0" stroke-opacity="0.25" stroke-width="2.0" stroke-linejoin="round" stroke-linecap="round"/>
<path d="M187.90,310.60 C189.08,310.43 192.45,309.90 195.00,309.60 C197.55,309.30 201.38,309.27 203.20,308.80 C205.02,308.33 205.00,308.73 205.90,306.80 C206.80,304.87 207.70,300.83 208.60,297.20 C209.50,293.57 210.38,289.08 211.30,285.00 C212.22,280.92 213.18,276.33 214.10,272.70 C215.02,269.07 215.90,266.03 216.80,263.20 C217.70,260.37 218.60,257.75 219.50,255.70 C220.40,253.65 221.28,251.97 222.20,250.90 C223.12,249.83 223.85,249.33 225.00,249.30 C226.15,249.27 227.75,250.33 229.10,250.70 C230.45,251.07 231.52,251.47 233.10,251.50 C234.68,251.53 236.62,251.13 238.60,250.90 C240.58,250.67 242.27,250.42 245.00,250.10 C247.73,249.78 251.67,249.27 255.00,249.00 C258.33,248.73 261.58,248.62 265.00,248.50 C268.42,248.38 273.75,248.33 275.50,248.30" fill="none" stroke="#b8304a" stroke-width="1.0" stroke-linejoin="round" stroke-linecap="round"/>
<path d="M187.90,307.90 C189.08,307.83 190.63,307.68 195.00,307.50 C199.37,307.32 210.47,307.38 214.10,306.80 C217.73,306.22 215.67,305.60 216.80,304.00 C217.93,302.40 219.65,298.78 220.90,297.20 C222.15,295.62 222.93,295.07 224.30,294.50 C225.67,293.93 227.40,294.03 229.10,293.80 C230.80,293.57 232.92,293.67 234.50,293.10 C236.08,292.53 237.35,291.53 238.60,290.40 C239.85,289.27 240.93,287.62 242.00,286.30 C243.07,284.98 243.67,284.22 245.00,282.50 C246.33,280.78 248.25,277.72 250.00,276.00 C251.75,274.28 253.00,273.33 255.50,272.20 C258.00,271.07 261.67,270.17 265.00,269.20 C268.33,268.23 273.75,266.87 275.50,266.40" fill="none" stroke="#a0c4e4" stroke-opacity="0.25" stroke-width="2.0" stroke-linejoin="round" stroke-linecap="round"/>
<path d="M187.90,307.90 C189.08,307.83 190.63,307.68 195.00,307.50 C199.37,307.32 210.47,307.38 214.10,306.80 C217.73,306.22 215.67,305.60 216.80,304.00 C217.93,302.40 219.65,298.78 220.90,297.20 C222.15,295.62 222.93,295.07 224.30,294.50 C225.67,293.93 227.40,294.03 229.10,293.80 C230.80,293.57 232.92,293.67 234.50,293.10 C236.08,292.53 237.35,291.53 238.60,290.40 C239.85,289.27 240.93,287.62 242.00,286.30 C243.07,284.98 243.67,284.22 245.00,282.50 C246.33,280.78 248.25,277.72 250.00,276.00 C251.75,274.28 253.00,273.33 255.50,272.20 C258.00,271.07 261.67,270.17 265.00,269.20 C268.33,268.23 273.75,266.87 275.50,266.40" fill="none" stroke="#2a70a8" stroke-width="1.0" stroke-linejoin="round" stroke-linecap="round"/>
<text x="234.20" y="246.00" font-size="6.4" text-anchor="start" fill="#c03048" font-weight="normal" font-style="normal" stroke="#c03048" stroke-width="0.2" >-0.2 V culture</text>
<text x="232.40" y="303.00" font-size="6.4" text-anchor="start" fill="#2a72aa" font-weight="normal" font-style="normal" stroke="#2a72aa" stroke-width="0.2" >+0.2 V culture (×5)</text>
<path d="M187.90,413.30 C189.08,413.10 192.63,412.37 195.00,412.10 C197.37,411.83 200.52,412.22 202.10,411.70 C203.68,411.18 203.72,411.43 204.50,409.00 C205.28,406.57 205.88,401.72 206.80,397.10 C207.72,392.48 208.93,386.57 210.00,381.30 C211.07,376.03 212.28,369.58 213.20,365.50 C214.12,361.42 214.72,358.63 215.50,356.80 C216.28,354.97 216.72,354.83 217.90,354.50 C219.08,354.17 220.37,354.67 222.60,354.80 C224.83,354.93 228.27,355.22 231.30,355.30 C234.33,355.38 238.17,355.57 240.80,355.30 C243.43,355.03 243.07,353.97 247.10,353.70 C251.13,353.43 260.27,353.72 265.00,353.70 C269.73,353.68 273.75,353.62 275.50,353.60" fill="none" stroke="#e8a0b0" stroke-opacity="0.25" stroke-width="2.0" stroke-linejoin="round" stroke-linecap="round"/>
<path d="M187.90,413.30 C189.08,413.10 192.63,412.37 195.00,412.10 C197.37,411.83 200.52,412.22 202.10,411.70 C203.68,411.18 203.72,411.43 204.50,409.00 C205.28,406.57 205.88,401.72 206.80,397.10 C207.72,392.48 208.93,386.57 210.00,381.30 C211.07,376.03 212.28,369.58 213.20,365.50 C214.12,361.42 214.72,358.63 215.50,356.80 C216.28,354.97 216.72,354.83 217.90,354.50 C219.08,354.17 220.37,354.67 222.60,354.80 C224.83,354.93 228.27,355.22 231.30,355.30 C234.33,355.38 238.17,355.57 240.80,355.30 C243.43,355.03 243.07,353.97 247.10,353.70 C251.13,353.43 260.27,353.72 265.00,353.70 C269.73,353.68 273.75,353.62 275.50,353.60" fill="none" stroke="#b8304a" stroke-width="1.0" stroke-linejoin="round" stroke-linecap="round"/>
<path d="M187.90,411.00 C189.08,410.93 191.18,410.75 195.00,410.60 C198.82,410.45 205.53,410.37 210.80,410.10 C216.07,409.83 222.92,409.45 226.60,409.00 C230.28,408.55 231.05,408.32 232.90,407.40 C234.75,406.48 236.12,405.60 237.70,403.50 C239.28,401.40 241.08,397.18 242.40,394.80 C243.72,392.42 244.68,390.45 245.60,389.20 C246.52,387.95 246.85,387.30 247.90,387.30 C248.95,387.30 250.45,388.57 251.90,389.20 C253.35,389.83 254.42,390.70 256.60,391.10 C258.78,391.50 261.85,391.57 265.00,391.60 C268.15,391.63 273.75,391.35 275.50,391.30" fill="none" stroke="#a0c4e4" stroke-opacity="0.25" stroke-width="2.0" stroke-linejoin="round" stroke-linecap="round"/>
<path d="M187.90,411.00 C189.08,410.93 191.18,410.75 195.00,410.60 C198.82,410.45 205.53,410.37 210.80,410.10 C216.07,409.83 222.92,409.45 226.60,409.00 C230.28,408.55 231.05,408.32 232.90,407.40 C234.75,406.48 236.12,405.60 237.70,403.50 C239.28,401.40 241.08,397.18 242.40,394.80 C243.72,392.42 244.68,390.45 245.60,389.20 C246.52,387.95 246.85,387.30 247.90,387.30 C248.95,387.30 250.45,388.57 251.90,389.20 C253.35,389.83 254.42,390.70 256.60,391.10 C258.78,391.50 261.85,391.57 265.00,391.60 C268.15,391.63 273.75,391.35 275.50,391.30" fill="none" stroke="#2a70a8" stroke-width="1.0" stroke-linejoin="round" stroke-linecap="round"/>
<text x="234.20" y="350.00" font-size="6.4" text-anchor="start" fill="#c03048" font-weight="normal" font-style="normal" stroke="#c03048" stroke-width="0.2" >-0.2 V culture</text>
<text x="232.40" y="384.00" font-size="6.4" text-anchor="start" fill="#2a72aa" font-weight="normal" font-style="normal" stroke="#2a72aa" stroke-width="0.2" >+0.2 V culture (×5)</text>
<path d="M188.80,528.60 C191.50,528.53 200.50,528.42 205.00,528.20 C209.50,527.98 213.40,527.63 215.80,527.30 C218.20,526.97 218.43,527.87 219.40,526.20 C220.37,524.53 221.05,520.88 221.60,517.30 C222.15,513.72 222.30,508.15 222.70,504.70 C223.10,501.25 223.33,497.50 224.00,496.60 C224.67,495.70 225.80,498.55 226.70,499.30 C227.60,500.05 227.90,501.25 229.40,501.10 C230.90,500.95 233.15,499.90 235.70,498.40 C238.25,496.90 241.85,494.50 244.70,492.10 C247.55,489.70 250.38,485.97 252.80,484.00 C255.22,482.03 256.63,481.52 259.20,480.30 C261.77,479.08 265.35,477.80 268.20,476.70 C271.05,475.60 274.95,474.20 276.30,473.70" fill="none" stroke="#e8a0b0" stroke-opacity="0.25" stroke-width="2.0" stroke-linejoin="round" stroke-linecap="round"/>
<path d="M188.80,528.60 C191.50,528.53 200.50,528.42 205.00,528.20 C209.50,527.98 213.40,527.63 215.80,527.30 C218.20,526.97 218.43,527.87 219.40,526.20 C220.37,524.53 221.05,520.88 221.60,517.30 C222.15,513.72 222.30,508.15 222.70,504.70 C223.10,501.25 223.33,497.50 224.00,496.60 C224.67,495.70 225.80,498.55 226.70,499.30 C227.60,500.05 227.90,501.25 229.40,501.10 C230.90,500.95 233.15,499.90 235.70,498.40 C238.25,496.90 241.85,494.50 244.70,492.10 C247.55,489.70 250.38,485.97 252.80,484.00 C255.22,482.03 256.63,481.52 259.20,480.30 C261.77,479.08 265.35,477.80 268.20,476.70 C271.05,475.60 274.95,474.20 276.30,473.70" fill="none" stroke="#b8304a" stroke-width="1.0" stroke-linejoin="round" stroke-linecap="round"/>
<path d="M188.80,528.80 C191.50,528.73 200.50,528.60 205.00,528.40 C209.50,528.20 213.40,527.87 215.80,527.60 C218.20,527.33 218.43,528.40 219.40,526.80 C220.37,525.20 221.05,521.30 221.60,518.00 C222.15,514.70 222.37,509.52 222.70,507.00 C223.03,504.48 223.00,502.83 223.60,502.90 C224.20,502.97 225.18,506.35 226.30,507.40 C227.42,508.45 228.43,509.28 230.30,509.20 C232.17,509.12 234.80,508.25 237.50,506.90 C240.20,505.55 243.80,502.97 246.50,501.10 C249.20,499.23 250.98,496.90 253.70,495.70 C256.42,494.50 259.03,494.65 262.80,493.90 C266.57,493.15 274.05,491.65 276.30,491.20" fill="none" stroke="#a0c4e4" stroke-opacity="0.25" stroke-width="2.0" stroke-linejoin="round" stroke-linecap="round"/>
<path d="M188.80,528.80 C191.50,528.73 200.50,528.60 205.00,528.40 C209.50,528.20 213.40,527.87 215.80,527.60 C218.20,527.33 218.43,528.40 219.40,526.80 C220.37,525.20 221.05,521.30 221.60,518.00 C222.15,514.70 222.37,509.52 222.70,507.00 C223.03,504.48 223.00,502.83 223.60,502.90 C224.20,502.97 225.18,506.35 226.30,507.40 C227.42,508.45 228.43,509.28 230.30,509.20 C232.17,509.12 234.80,508.25 237.50,506.90 C240.20,505.55 243.80,502.97 246.50,501.10 C249.20,499.23 250.98,496.90 253.70,495.70 C256.42,494.50 259.03,494.65 262.80,493.90 C266.57,493.15 274.05,491.65 276.30,491.20" fill="none" stroke="#2a70a8" stroke-width="1.0" stroke-linejoin="round" stroke-linecap="round"/>
<text x="232.10" y="474.40" font-size="6.4" text-anchor="start" fill="#c03048" font-weight="normal" font-style="normal" stroke="#c03048" stroke-width="0.2" >-0.2 V culture</text>
<text x="234.00" y="516.90" font-size="6.4" text-anchor="start" fill="#2a72aa" font-weight="normal" font-style="normal" stroke="#2a72aa" stroke-width="0.2" >+0.2 V culture</text>
<path d="M335.40,85.30 C337.00,85.28 342.53,85.32 345.00,85.20 C347.47,85.08 348.92,86.15 350.20,84.60 C351.48,83.05 351.75,79.47 352.70,75.90 C353.65,72.33 354.83,67.65 355.90,63.20 C356.97,58.75 358.15,53.45 359.10,49.20 C360.05,44.95 360.75,40.47 361.60,37.70 C362.45,34.93 363.35,33.13 364.20,32.60 C365.05,32.07 366.17,33.65 366.70,34.50 C367.23,35.35 366.97,35.05 367.40,37.70 C367.83,40.35 368.57,45.73 369.30,50.40 C370.03,55.07 370.95,61.23 371.80,65.70 C372.65,70.17 373.33,74.12 374.40,77.20 C375.47,80.28 376.72,82.72 378.20,84.20 C379.68,85.68 381.33,85.83 383.30,86.10 C385.27,86.37 386.38,85.77 390.00,85.80 C393.62,85.83 399.42,86.10 405.00,86.30 C410.58,86.50 420.42,86.88 423.50,87.00" fill="none" stroke="#e8a0b0" stroke-opacity="0.25" stroke-width="2.0" stroke-linejoin="round" stroke-linecap="round"/>
<path d="M335.40,85.30 C337.00,85.28 342.53,85.32 345.00,85.20 C347.47,85.08 348.92,86.15 350.20,84.60 C351.48,83.05 351.75,79.47 352.70,75.90 C353.65,72.33 354.83,67.65 355.90,63.20 C356.97,58.75 358.15,53.45 359.10,49.20 C360.05,44.95 360.75,40.47 361.60,37.70 C362.45,34.93 363.35,33.13 364.20,32.60 C365.05,32.07 366.17,33.65 366.70,34.50 C367.23,35.35 366.97,35.05 367.40,37.70 C367.83,40.35 368.57,45.73 369.30,50.40 C370.03,55.07 370.95,61.23 371.80,65.70 C372.65,70.17 373.33,74.12 374.40,77.20 C375.47,80.28 376.72,82.72 378.20,84.20 C379.68,85.68 381.33,85.83 383.30,86.10 C385.27,86.37 386.38,85.77 390.00,85.80 C393.62,85.83 399.42,86.10 405.00,86.30 C410.58,86.50 420.42,86.88 423.50,87.00" fill="none" stroke="#b8304a" stroke-width="1.0" stroke-linejoin="round" stroke-linecap="round"/>
<path d="M335.40,85.30 C337.00,85.28 342.32,85.32 345.00,85.20 C347.68,85.08 349.90,86.37 351.50,84.60 C353.10,82.83 353.55,78.60 354.60,74.60 C355.65,70.60 356.83,65.47 357.80,60.60 C358.77,55.73 359.55,49.85 360.40,45.40 C361.25,40.95 362.17,35.82 362.90,33.90 C363.63,31.98 364.17,32.20 364.80,33.90 C365.43,35.60 365.95,39.65 366.70,44.10 C367.45,48.55 368.45,55.30 369.30,60.60 C370.15,65.90 370.85,71.97 371.80,75.90 C372.75,79.83 373.93,82.55 375.00,84.20 C376.07,85.85 375.70,85.53 378.20,85.80 C380.70,86.07 385.53,85.72 390.00,85.80 C394.47,85.88 399.42,86.10 405.00,86.30 C410.58,86.50 420.42,86.88 423.50,87.00" fill="none" stroke="#a0c4e4" stroke-opacity="0.25" stroke-width="2.0" stroke-linejoin="round" stroke-linecap="round"/>
<path d="M335.40,85.30 C337.00,85.28 342.32,85.32 345.00,85.20 C347.68,85.08 349.90,86.37 351.50,84.60 C353.10,82.83 353.55,78.60 354.60,74.60 C355.65,70.60 356.83,65.47 357.80,60.60 C358.77,55.73 359.55,49.85 360.40,45.40 C361.25,40.95 362.17,35.82 362.90,33.90 C363.63,31.98 364.17,32.20 364.80,33.90 C365.43,35.60 365.95,39.65 366.70,44.10 C367.45,48.55 368.45,55.30 369.30,60.60 C370.15,65.90 370.85,71.97 371.80,75.90 C372.75,79.83 373.93,82.55 375.00,84.20 C376.07,85.85 375.70,85.53 378.20,85.80 C380.70,86.07 385.53,85.72 390.00,85.80 C394.47,85.88 399.42,86.10 405.00,86.30 C410.58,86.50 420.42,86.88 423.50,87.00" fill="none" stroke="#2a70a8" stroke-width="1.0" stroke-linejoin="round" stroke-linecap="round"/>
<text x="339.30" y="28.70" font-size="6.4" text-anchor="start" fill="#2a72aa" font-weight="normal" font-style="normal" stroke="#2a72aa" stroke-width="0.2" >-0.38 V</text>
<text x="362.10" y="21.90" font-size="6.4" text-anchor="start" fill="#c03048" font-weight="normal" font-style="normal" stroke="#c03048" stroke-width="0.2" >-0.37 V</text>
<polygon points="361.70,23.70 365.70,23.70 363.70,27.60" fill="#b8304a"/>
<polygon points="360.90,26.70 364.70,26.70 362.80,31.80" fill="#2a70a8"/>
<path d="M337.20,183.50 C339.33,183.50 346.95,183.53 350.00,183.50 C353.05,183.47 354.25,184.05 355.50,183.30 C356.75,182.55 356.83,181.22 357.50,179.00 C358.17,176.78 358.88,173.17 359.50,170.00 C360.12,166.83 360.65,163.33 361.20,160.00 C361.75,156.67 362.28,152.92 362.80,150.00 C363.32,147.08 363.85,144.17 364.30,142.50 C364.75,140.83 365.08,139.92 365.50,140.00 C365.92,140.08 366.33,140.83 366.80,143.00 C367.27,145.17 367.73,148.50 368.30,153.00 C368.87,157.50 369.55,164.50 370.20,170.00 C370.85,175.50 371.63,181.83 372.20,186.00 C372.77,190.17 373.20,192.97 373.60,195.00 C374.00,197.03 374.23,198.37 374.60,198.20 C374.97,198.03 375.37,196.20 375.80,194.00 C376.23,191.80 376.67,187.67 377.20,185.00 C377.73,182.33 378.28,179.75 379.00,178.00 C379.72,176.25 380.58,175.20 381.50,174.50 C382.42,173.80 382.78,173.47 384.50,173.80 C386.22,174.13 389.22,175.42 391.80,176.50 C394.38,177.58 396.97,179.30 400.00,180.30 C403.03,181.30 405.92,181.98 410.00,182.50 C414.08,183.02 422.08,183.25 424.50,183.40" fill="none" stroke="#e8a0b0" stroke-opacity="0.25" stroke-width="2.0" stroke-linejoin="round" stroke-linecap="round"/>
<path d="M337.20,183.50 C339.33,183.50 346.95,183.53 350.00,183.50 C353.05,183.47 354.25,184.05 355.50,183.30 C356.75,182.55 356.83,181.22 357.50,179.00 C358.17,176.78 358.88,173.17 359.50,170.00 C360.12,166.83 360.65,163.33 361.20,160.00 C361.75,156.67 362.28,152.92 362.80,150.00 C363.32,147.08 363.85,144.17 364.30,142.50 C364.75,140.83 365.08,139.92 365.50,140.00 C365.92,140.08 366.33,140.83 366.80,143.00 C367.27,145.17 367.73,148.50 368.30,153.00 C368.87,157.50 369.55,164.50 370.20,170.00 C370.85,175.50 371.63,181.83 372.20,186.00 C372.77,190.17 373.20,192.97 373.60,195.00 C374.00,197.03 374.23,198.37 374.60,198.20 C374.97,198.03 375.37,196.20 375.80,194.00 C376.23,191.80 376.67,187.67 377.20,185.00 C377.73,182.33 378.28,179.75 379.00,178.00 C379.72,176.25 380.58,175.20 381.50,174.50 C382.42,173.80 382.78,173.47 384.50,173.80 C386.22,174.13 389.22,175.42 391.80,176.50 C394.38,177.58 396.97,179.30 400.00,180.30 C403.03,181.30 405.92,181.98 410.00,182.50 C414.08,183.02 422.08,183.25 424.50,183.40" fill="none" stroke="#b8304a" stroke-width="1.0" stroke-linejoin="round" stroke-linecap="round"/>
<path d="M337.20,183.60 C339.33,183.60 346.87,183.63 350.00,183.60 C353.13,183.57 354.63,184.18 356.00,183.40 C357.37,182.62 357.47,181.17 358.20,178.90 C358.93,176.63 359.78,172.82 360.40,169.80 C361.02,166.78 361.40,164.03 361.90,160.80 C362.40,157.57 362.90,153.95 363.40,150.40 C363.90,146.85 364.45,142.13 364.90,139.50 C365.35,136.87 365.68,134.68 366.10,134.60 C366.52,134.52 366.88,135.93 367.40,139.00 C367.92,142.07 368.57,147.83 369.20,153.00 C369.83,158.17 370.53,164.17 371.20,170.00 C371.87,175.83 372.63,183.00 373.20,188.00 C373.77,193.00 374.18,197.08 374.60,200.00 C375.02,202.92 375.33,205.33 375.70,205.50 C376.07,205.67 376.42,203.08 376.80,201.00 C377.18,198.92 377.42,196.50 378.00,193.00 C378.58,189.50 379.55,182.90 380.30,180.00 C381.05,177.10 381.63,176.50 382.50,175.60 C383.37,174.70 383.95,174.37 385.50,174.60 C387.05,174.83 389.38,175.93 391.80,177.00 C394.22,178.07 396.97,180.03 400.00,181.00 C403.03,181.97 407.42,182.43 410.00,182.80 C412.58,183.17 414.50,183.75 415.50,183.20 C416.50,182.65 415.82,179.17 416.00,179.50 C416.18,179.83 416.37,184.57 416.60,185.20 C416.83,185.83 416.17,183.58 417.40,183.30 C418.63,183.02 422.80,183.22 424.00,183.50 C425.20,183.78 424.50,184.75 424.60,185.00" fill="none" stroke="#a0c4e4" stroke-opacity="0.25" stroke-width="2.0" stroke-linejoin="round" stroke-linecap="round"/>
<path d="M337.20,183.60 C339.33,183.60 346.87,183.63 350.00,183.60 C353.13,183.57 354.63,184.18 356.00,183.40 C357.37,182.62 357.47,181.17 358.20,178.90 C358.93,176.63 359.78,172.82 360.40,169.80 C361.02,166.78 361.40,164.03 361.90,160.80 C362.40,157.57 362.90,153.95 363.40,150.40 C363.90,146.85 364.45,142.13 364.90,139.50 C365.35,136.87 365.68,134.68 366.10,134.60 C366.52,134.52 366.88,135.93 367.40,139.00 C367.92,142.07 368.57,147.83 369.20,153.00 C369.83,158.17 370.53,164.17 371.20,170.00 C371.87,175.83 372.63,183.00 373.20,188.00 C373.77,193.00 374.18,197.08 374.60,200.00 C375.02,202.92 375.33,205.33 375.70,205.50 C376.07,205.67 376.42,203.08 376.80,201.00 C377.18,198.92 377.42,196.50 378.00,193.00 C378.58,189.50 379.55,182.90 380.30,180.00 C381.05,177.10 381.63,176.50 382.50,175.60 C383.37,174.70 383.95,174.37 385.50,174.60 C387.05,174.83 389.38,175.93 391.80,177.00 C394.22,178.07 396.97,180.03 400.00,181.00 C403.03,181.97 407.42,182.43 410.00,182.80 C412.58,183.17 414.50,183.75 415.50,183.20 C416.50,182.65 415.82,179.17 416.00,179.50 C416.18,179.83 416.37,184.57 416.60,185.20 C416.83,185.83 416.17,183.58 417.40,183.30 C418.63,183.02 422.80,183.22 424.00,183.50 C425.20,183.78 424.50,184.75 424.60,185.00" fill="none" stroke="#2a70a8" stroke-width="1.0" stroke-linejoin="round" stroke-linecap="round"/>
<text x="343.00" y="128.30" font-size="6.4" text-anchor="start" fill="#c03048" font-weight="normal" font-style="normal" stroke="#c03048" stroke-width="0.2" >-0.37 V</text>
<text x="367.80" y="126.10" font-size="6.4" text-anchor="start" fill="#2a72aa" font-weight="normal" font-style="normal" stroke="#2a72aa" stroke-width="0.2" >-0.36 V</text>
<polygon points="363.30,127.10 367.20,127.10 365.25,132.40" fill="#b8304a"/>
<polygon points="364.70,126.10 368.80,126.10 366.75,129.80" fill="#2a70a8"/>
<path d="M338.10,304.30 C339.75,304.28 345.72,304.35 348.00,304.20 C350.28,304.05 350.72,304.57 351.80,303.40 C352.88,302.23 353.58,300.95 354.50,297.20 C355.42,293.45 356.38,287.03 357.30,280.90 C358.22,274.77 359.22,265.63 360.00,260.40 C360.78,255.17 361.48,251.65 362.00,249.50 C362.52,247.35 362.63,247.27 363.10,247.50 C363.57,247.73 364.30,248.75 364.80,250.90 C365.30,253.05 365.53,257.00 366.10,260.40 C366.67,263.80 367.52,268.45 368.20,271.30 C368.88,274.15 369.63,275.90 370.20,277.50 C370.77,279.10 371.15,278.75 371.60,280.90 C372.05,283.05 372.45,287.23 372.90,290.40 C373.35,293.57 373.83,297.17 374.30,299.90 C374.77,302.63 375.25,305.48 375.70,306.80 C376.15,308.12 376.22,307.92 377.00,307.80 C377.78,307.68 378.92,306.73 380.40,306.10 C381.88,305.47 384.13,304.58 385.90,304.00 C387.67,303.42 389.17,303.00 391.00,302.60 C392.83,302.20 395.07,301.50 396.90,301.60 C398.73,301.70 399.82,302.77 402.00,303.20 C404.18,303.63 406.10,304.02 410.00,304.20 C413.90,304.38 422.83,304.28 425.40,304.30" fill="none" stroke="#e8a0b0" stroke-opacity="0.25" stroke-width="2.0" stroke-linejoin="round" stroke-linecap="round"/>
<path d="M338.10,304.30 C339.75,304.28 345.72,304.35 348.00,304.20 C350.28,304.05 350.72,304.57 351.80,303.40 C352.88,302.23 353.58,300.95 354.50,297.20 C355.42,293.45 356.38,287.03 357.30,280.90 C358.22,274.77 359.22,265.63 360.00,260.40 C360.78,255.17 361.48,251.65 362.00,249.50 C362.52,247.35 362.63,247.27 363.10,247.50 C363.57,247.73 364.30,248.75 364.80,250.90 C365.30,253.05 365.53,257.00 366.10,260.40 C366.67,263.80 367.52,268.45 368.20,271.30 C368.88,274.15 369.63,275.90 370.20,277.50 C370.77,279.10 371.15,278.75 371.60,280.90 C372.05,283.05 372.45,287.23 372.90,290.40 C373.35,293.57 373.83,297.17 374.30,299.90 C374.77,302.63 375.25,305.48 375.70,306.80 C376.15,308.12 376.22,307.92 377.00,307.80 C377.78,307.68 378.92,306.73 380.40,306.10 C381.88,305.47 384.13,304.58 385.90,304.00 C387.67,303.42 389.17,303.00 391.00,302.60 C392.83,302.20 395.07,301.50 396.90,301.60 C398.73,301.70 399.82,302.77 402.00,303.20 C404.18,303.63 406.10,304.02 410.00,304.20 C413.90,304.38 422.83,304.28 425.40,304.30" fill="none" stroke="#b8304a" stroke-width="1.0" stroke-linejoin="round" stroke-linecap="round"/>
<path d="M338.10,304.30 C342.43,304.27 359.32,304.48 364.10,304.10 C368.88,303.72 365.90,302.47 366.80,302.00 C367.70,301.53 368.60,301.18 369.50,301.30 C370.40,301.42 371.28,302.17 372.20,302.70 C373.12,303.23 372.87,304.22 375.00,304.50 C377.13,304.78 382.33,304.62 385.00,304.40 C387.67,304.18 389.02,303.57 391.00,303.20 C392.98,302.83 395.07,302.17 396.90,302.20 C398.73,302.23 399.82,303.05 402.00,303.40 C404.18,303.75 406.10,304.15 410.00,304.30 C413.90,304.45 422.83,304.30 425.40,304.30" fill="none" stroke="#a0c4e4" stroke-opacity="0.25" stroke-width="2.0" stroke-linejoin="round" stroke-linecap="round"/>
<path d="M338.10,304.30 C342.43,304.27 359.32,304.48 364.10,304.10 C368.88,303.72 365.90,302.47 366.80,302.00 C367.70,301.53 368.60,301.18 369.50,301.30 C370.40,301.42 371.28,302.17 372.20,302.70 C373.12,303.23 372.87,304.22 375.00,304.50 C377.13,304.78 382.33,304.62 385.00,304.40 C387.67,304.18 389.02,303.57 391.00,303.20 C392.98,302.83 395.07,302.17 396.90,302.20 C398.73,302.23 399.82,303.05 402.00,303.40 C404.18,303.75 406.10,304.15 410.00,304.30 C413.90,304.45 422.83,304.30 425.40,304.30" fill="none" stroke="#2a70a8" stroke-width="1.0" stroke-linejoin="round" stroke-linecap="round"/>
<text x="354.10" y="239.10" font-size="6.4" text-anchor="start" fill="#c03048" font-weight="normal" font-style="normal" stroke="#c03048" stroke-width="0.2" >-0.41 V</text>
<polygon points="361.30,240.50 365.30,240.50 363.30,245.00" fill="#b8304a"/>
<text x="369.80" y="268.00" font-size="6.4" text-anchor="start" fill="#c03048" font-weight="normal" font-style="normal" stroke="#c03048" stroke-width="0.2" >-0.33 V</text>
<polygon points="368.50,269.50 372.90,269.50 370.70,274.00" fill="#b8304a"/>
<text x="388.40" y="292.00" font-size="6.4" text-anchor="start" fill="#c03048" font-weight="normal" font-style="normal" stroke="#c03048" stroke-width="0.2" >-0.02 V</text>
<polygon points="394.70,293.30 399.10,293.30 396.90,298.40" fill="#b8304a"/>
<polygon points="370.60,305.70 372.90,310.40 368.30,310.40" fill="#2a70a8"/>
<text x="360.00" y="318.20" font-size="6.4" text-anchor="start" fill="#2a72aa" font-weight="normal" font-style="normal" stroke="#2a72aa" stroke-width="0.2" >-0.33 V</text>
<polygon points="397.00,305.70 399.30,310.40 394.70,310.40" fill="#2a70a8"/>
<text x="389.30" y="318.20" font-size="6.4" text-anchor="start" fill="#2a72aa" font-weight="normal" font-style="normal" stroke="#2a72aa" stroke-width="0.2" >-0.03 V</text>
<path d="M340.00,410.80 C341.33,410.80 345.95,410.85 348.00,410.80 C350.05,410.75 351.22,411.33 352.30,410.50 C353.38,409.67 353.77,409.03 354.50,405.80 C355.23,402.57 355.97,396.73 356.70,391.10 C357.43,385.47 358.28,376.77 358.90,372.00 C359.52,367.23 359.98,364.27 360.40,362.50 C360.82,360.73 361.08,360.95 361.40,361.40 C361.72,361.85 361.98,365.02 362.30,365.20 C362.62,365.38 362.88,363.13 363.30,362.50 C363.72,361.87 364.30,360.80 364.80,361.40 C365.30,362.00 365.82,363.12 366.30,366.10 C366.78,369.08 367.22,374.15 367.70,379.30 C368.18,384.45 368.70,391.73 369.20,397.00 C369.70,402.27 370.28,408.13 370.70,410.90 C371.12,413.67 371.22,413.23 371.70,413.60 C372.18,413.97 372.92,413.48 373.60,413.10 C374.28,412.72 373.72,411.73 375.80,411.30 C377.88,410.87 383.40,411.00 386.10,410.50 C388.80,410.00 390.42,408.82 392.00,408.30 C393.58,407.78 394.50,407.22 395.60,407.40 C396.70,407.58 397.73,408.70 398.60,409.40 C399.47,410.10 399.95,411.28 400.80,411.60 C401.65,411.92 402.17,411.42 403.70,411.30 C405.23,411.18 406.15,410.97 410.00,410.90 C413.85,410.83 424.00,410.90 426.80,410.90" fill="none" stroke="#e8a0b0" stroke-opacity="0.25" stroke-width="2.0" stroke-linejoin="round" stroke-linecap="round"/>
<path d="M340.00,410.80 C341.33,410.80 345.95,410.85 348.00,410.80 C350.05,410.75 351.22,411.33 352.30,410.50 C353.38,409.67 353.77,409.03 354.50,405.80 C355.23,402.57 355.97,396.73 356.70,391.10 C357.43,385.47 358.28,376.77 358.90,372.00 C359.52,367.23 359.98,364.27 360.40,362.50 C360.82,360.73 361.08,360.95 361.40,361.40 C361.72,361.85 361.98,365.02 362.30,365.20 C362.62,365.38 362.88,363.13 363.30,362.50 C363.72,361.87 364.30,360.80 364.80,361.40 C365.30,362.00 365.82,363.12 366.30,366.10 C366.78,369.08 367.22,374.15 367.70,379.30 C368.18,384.45 368.70,391.73 369.20,397.00 C369.70,402.27 370.28,408.13 370.70,410.90 C371.12,413.67 371.22,413.23 371.70,413.60 C372.18,413.97 372.92,413.48 373.60,413.10 C374.28,412.72 373.72,411.73 375.80,411.30 C377.88,410.87 383.40,411.00 386.10,410.50 C388.80,410.00 390.42,408.82 392.00,408.30 C393.58,407.78 394.50,407.22 395.60,407.40 C396.70,407.58 397.73,408.70 398.60,409.40 C399.47,410.10 399.95,411.28 400.80,411.60 C401.65,411.92 402.17,411.42 403.70,411.30 C405.23,411.18 406.15,410.97 410.00,410.90 C413.85,410.83 424.00,410.90 426.80,410.90" fill="none" stroke="#b8304a" stroke-width="1.0" stroke-linejoin="round" stroke-linecap="round"/>
<path d="M340.00,410.90 C347.67,410.90 377.58,411.27 386.00,410.90 C394.42,410.53 389.02,409.40 390.50,408.70 C391.98,408.00 393.55,406.70 394.90,406.70 C396.25,406.70 397.62,408.03 398.60,408.70 C399.58,409.37 398.90,410.33 400.80,410.70 C402.70,411.07 405.67,410.87 410.00,410.90 C414.33,410.93 424.00,410.90 426.80,410.90" fill="none" stroke="#a0c4e4" stroke-opacity="0.25" stroke-width="2.0" stroke-linejoin="round" stroke-linecap="round"/>
<path d="M340.00,410.90 C347.67,410.90 377.58,411.27 386.00,410.90 C394.42,410.53 389.02,409.40 390.50,408.70 C391.98,408.00 393.55,406.70 394.90,406.70 C396.25,406.70 397.62,408.03 398.60,408.70 C399.58,409.37 398.90,410.33 400.80,410.70 C402.70,411.07 405.67,410.87 410.00,410.90 C414.33,410.93 424.00,410.90 426.80,410.90" fill="none" stroke="#2a70a8" stroke-width="1.0" stroke-linejoin="round" stroke-linecap="round"/>
<text x="340.80" y="352.60" font-size="6.4" text-anchor="start" fill="#c03048" font-weight="normal" font-style="normal" stroke="#c03048" stroke-width="0.2" >-0.45 V</text>
<text x="365.00" y="352.40" font-size="6.4" text-anchor="start" fill="#c03048" font-weight="normal" font-style="normal" stroke="#c03048" stroke-width="0.2" >-0.41 V</text>
<polygon points="357.90,354.50 361.90,354.50 359.90,359.00" fill="#b8304a"/>
<polygon points="362.30,354.50 366.50,354.50 364.40,359.00" fill="#b8304a"/>
<text x="387.70" y="398.50" font-size="6.4" text-anchor="start" fill="#c03048" font-weight="normal" font-style="normal" stroke="#c03048" stroke-width="0.2" >-0.02 V</text>
<polygon points="395.50,400.50 399.90,400.50 397.70,405.00" fill="#b8304a"/>
<polygon points="395.90,413.70 398.10,418.20 393.70,418.20" fill="#2a70a8"/>
<text x="386.80" y="425.50" font-size="6.4" text-anchor="start" fill="#2a72aa" font-weight="normal" font-style="normal" stroke="#2a72aa" stroke-width="0.2" >-0.06 V</text>
<path d="M340.80,529.00 C344.00,529.00 354.95,529.23 360.00,529.00 C365.05,528.77 369.03,529.53 371.10,527.60 C373.17,525.67 372.08,523.05 372.40,517.40 C372.72,511.75 372.83,500.57 373.00,493.70 C373.17,486.83 373.18,479.15 373.40,476.20 C373.62,473.25 374.07,473.70 374.30,476.00 C374.53,478.30 374.63,485.50 374.80,490.00 C374.97,494.50 375.12,497.65 375.30,503.00 C375.48,508.35 375.68,517.07 375.90,522.10 C376.12,527.13 376.40,530.82 376.60,533.20 C376.80,535.58 376.70,536.43 377.10,536.40 C377.50,536.37 378.17,534.30 379.00,533.00 C379.83,531.70 380.53,529.70 382.10,528.60 C383.67,527.50 386.28,527.00 388.40,526.40 C390.52,525.80 392.82,525.48 394.80,525.00 C396.78,524.52 398.73,523.53 400.30,523.50 C401.87,523.47 402.75,524.17 404.20,524.80 C405.65,525.43 407.15,526.78 409.00,527.30 C410.85,527.82 412.15,527.73 415.30,527.90 C418.45,528.07 425.80,528.23 427.90,528.30" fill="none" stroke="#e8a0b0" stroke-opacity="0.25" stroke-width="2.0" stroke-linejoin="round" stroke-linecap="round"/>
<path d="M340.80,529.00 C344.00,529.00 354.95,529.23 360.00,529.00 C365.05,528.77 369.03,529.53 371.10,527.60 C373.17,525.67 372.08,523.05 372.40,517.40 C372.72,511.75 372.83,500.57 373.00,493.70 C373.17,486.83 373.18,479.15 373.40,476.20 C373.62,473.25 374.07,473.70 374.30,476.00 C374.53,478.30 374.63,485.50 374.80,490.00 C374.97,494.50 375.12,497.65 375.30,503.00 C375.48,508.35 375.68,517.07 375.90,522.10 C376.12,527.13 376.40,530.82 376.60,533.20 C376.80,535.58 376.70,536.43 377.10,536.40 C377.50,536.37 378.17,534.30 379.00,533.00 C379.83,531.70 380.53,529.70 382.10,528.60 C383.67,527.50 386.28,527.00 388.40,526.40 C390.52,525.80 392.82,525.48 394.80,525.00 C396.78,524.52 398.73,523.53 400.30,523.50 C401.87,523.47 402.75,524.17 404.20,524.80 C405.65,525.43 407.15,526.78 409.00,527.30 C410.85,527.82 412.15,527.73 415.30,527.90 C418.45,528.07 425.80,528.23 427.90,528.30" fill="none" stroke="#b8304a" stroke-width="1.0" stroke-linejoin="round" stroke-linecap="round"/>
<path d="M340.80,529.10 C344.00,529.10 354.95,529.32 360.00,529.10 C365.05,528.88 369.03,529.72 371.10,527.80 C373.17,525.88 372.08,522.23 372.40,517.60 C372.72,512.97 372.82,504.52 373.00,500.00 C373.18,495.48 373.28,492.08 373.50,490.50 C373.72,488.92 374.08,489.42 374.30,490.50 C374.52,491.58 374.63,494.58 374.80,497.00 C374.97,499.42 375.12,500.82 375.30,505.00 C375.48,509.18 375.68,517.40 375.90,522.10 C376.12,526.80 376.35,530.43 376.60,533.20 C376.85,535.97 377.00,538.67 377.40,538.70 C377.80,538.73 378.22,535.02 379.00,533.40 C379.78,531.78 380.53,530.10 382.10,529.00 C383.67,527.90 386.28,527.37 388.40,526.80 C390.52,526.23 392.82,525.90 394.80,525.60 C396.78,525.30 398.73,525.00 400.30,525.00 C401.87,525.00 402.75,525.13 404.20,525.60 C405.65,526.07 407.15,527.37 409.00,527.80 C410.85,528.23 412.15,528.08 415.30,528.20 C418.45,528.32 425.80,528.45 427.90,528.50" fill="none" stroke="#a0c4e4" stroke-opacity="0.25" stroke-width="2.0" stroke-linejoin="round" stroke-linecap="round"/>
<path d="M340.80,529.10 C344.00,529.10 354.95,529.32 360.00,529.10 C365.05,528.88 369.03,529.72 371.10,527.80 C373.17,525.88 372.08,522.23 372.40,517.60 C372.72,512.97 372.82,504.52 373.00,500.00 C373.18,495.48 373.28,492.08 373.50,490.50 C373.72,488.92 374.08,489.42 374.30,490.50 C374.52,491.58 374.63,494.58 374.80,497.00 C374.97,499.42 375.12,500.82 375.30,505.00 C375.48,509.18 375.68,517.40 375.90,522.10 C376.12,526.80 376.35,530.43 376.60,533.20 C376.85,535.97 377.00,538.67 377.40,538.70 C377.80,538.73 378.22,535.02 379.00,533.40 C379.78,531.78 380.53,530.10 382.10,529.00 C383.67,527.90 386.28,527.37 388.40,526.80 C390.52,526.23 392.82,525.90 394.80,525.60 C396.78,525.30 398.73,525.00 400.30,525.00 C401.87,525.00 402.75,525.13 404.20,525.60 C405.65,526.07 407.15,527.37 409.00,527.80 C410.85,528.23 412.15,528.08 415.30,528.20 C418.45,528.32 425.80,528.45 427.90,528.50" fill="none" stroke="#2a70a8" stroke-width="1.0" stroke-linejoin="round" stroke-linecap="round"/>
<text x="366.30" y="461.30" font-size="6.4" text-anchor="start" fill="#c03048" font-weight="normal" font-style="normal" stroke="#c03048" stroke-width="0.2" >-0.31 V</text>
<text x="366.30" y="467.80" font-size="6.4" text-anchor="start" fill="#2a72aa" font-weight="normal" font-style="normal" stroke="#2a72aa" stroke-width="0.2" >-0.31 V</text>
<polygon points="371.30,469.30 375.70,469.30 373.50,473.80" fill="#b8304a"/>
<text x="391.00" y="514.00" font-size="6.4" text-anchor="start" fill="#c03048" font-weight="normal" font-style="normal" stroke="#c03048" stroke-width="0.2" >0.00 V</text>
<polygon points="399.00,515.10 403.20,515.10 401.10,520.00" fill="#b8304a"/>
<polygon points="401.10,528.70 403.20,533.20 399.00,533.20" fill="#2a70a8"/>
<text x="397.20" y="540.20" font-size="6.4" text-anchor="start" fill="#2a72aa" font-weight="normal" font-style="normal" stroke="#2a72aa" stroke-width="0.2" >-0.02 V</text>
</svg></body></html>
